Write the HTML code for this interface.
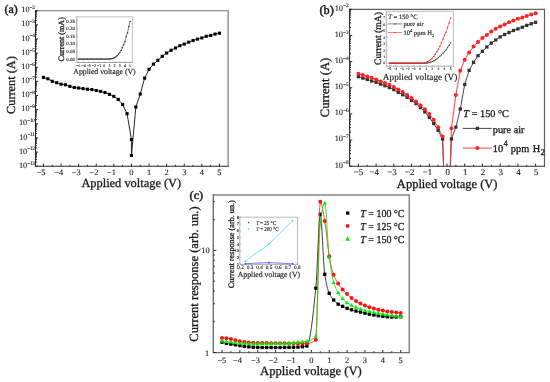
<!DOCTYPE html>
<html><head><meta charset="utf-8"><title>Figure</title>
<style>html,body{margin:0;padding:0;background:#fff;}svg{display:block;}
text{font-family:'Liberation Serif','Times New Roman',serif;text-rendering:geometricPrecision;stroke:#1a1a1a;stroke-width:0.3px;} .sm{stroke-width:0.14px;} .md{stroke-width:0.15px;} .tk{stroke-width:0.12px;} .pl{stroke-width:0.45px;}</style></head>
<body><svg width="550" height="382" viewBox="0 0 550 382">
<rect width="550" height="382" fill="#fff"/>
<path d="M35.50,10.70H228.10V166.20" fill="none" stroke="#707070" stroke-width="1.1"/>
<path d="M35.50,10.70V166.20H228.10" fill="none" stroke="#262626" stroke-width="1.1" stroke-linecap="square"/>
<line x1="43.45" y1="166.20" x2="43.45" y2="163.60" stroke="#2a2a2a" stroke-width="1" />
<text x="45.55" y="175.00" font-size="8.4" text-anchor="end" fill="#1a1a1a" class="tk" >−5</text>
<line x1="61.05" y1="166.20" x2="61.05" y2="163.60" stroke="#2a2a2a" stroke-width="1" />
<text x="63.15" y="175.00" font-size="8.4" text-anchor="end" fill="#1a1a1a" class="tk" >−4</text>
<line x1="78.65" y1="166.20" x2="78.65" y2="163.60" stroke="#2a2a2a" stroke-width="1" />
<text x="80.75" y="175.00" font-size="8.4" text-anchor="end" fill="#1a1a1a" class="tk" >−3</text>
<line x1="96.25" y1="166.20" x2="96.25" y2="163.60" stroke="#2a2a2a" stroke-width="1" />
<text x="98.35" y="175.00" font-size="8.4" text-anchor="end" fill="#1a1a1a" class="tk" >−2</text>
<line x1="113.85" y1="166.20" x2="113.85" y2="163.60" stroke="#2a2a2a" stroke-width="1" />
<text x="115.95" y="175.00" font-size="8.4" text-anchor="end" fill="#1a1a1a" class="tk" >−1</text>
<line x1="131.45" y1="166.20" x2="131.45" y2="163.60" stroke="#2a2a2a" stroke-width="1" />
<text x="131.45" y="175.00" font-size="8.4" text-anchor="middle" fill="#1a1a1a" class="tk" >0</text>
<line x1="149.05" y1="166.20" x2="149.05" y2="163.60" stroke="#2a2a2a" stroke-width="1" />
<text x="149.05" y="175.00" font-size="8.4" text-anchor="middle" fill="#1a1a1a" class="tk" >1</text>
<line x1="166.65" y1="166.20" x2="166.65" y2="163.60" stroke="#2a2a2a" stroke-width="1" />
<text x="166.65" y="175.00" font-size="8.4" text-anchor="middle" fill="#1a1a1a" class="tk" >2</text>
<line x1="184.25" y1="166.20" x2="184.25" y2="163.60" stroke="#2a2a2a" stroke-width="1" />
<text x="184.25" y="175.00" font-size="8.4" text-anchor="middle" fill="#1a1a1a" class="tk" >3</text>
<line x1="201.85" y1="166.20" x2="201.85" y2="163.60" stroke="#2a2a2a" stroke-width="1" />
<text x="201.85" y="175.00" font-size="8.4" text-anchor="middle" fill="#1a1a1a" class="tk" >4</text>
<line x1="219.45" y1="166.20" x2="219.45" y2="163.60" stroke="#2a2a2a" stroke-width="1" />
<text x="219.45" y="175.00" font-size="8.4" text-anchor="middle" fill="#1a1a1a" class="tk" >5</text>
<line x1="52.25" y1="166.20" x2="52.25" y2="164.80" stroke="#2a2a2a" stroke-width="1" />
<line x1="69.85" y1="166.20" x2="69.85" y2="164.80" stroke="#2a2a2a" stroke-width="1" />
<line x1="87.45" y1="166.20" x2="87.45" y2="164.80" stroke="#2a2a2a" stroke-width="1" />
<line x1="105.05" y1="166.20" x2="105.05" y2="164.80" stroke="#2a2a2a" stroke-width="1" />
<line x1="122.65" y1="166.20" x2="122.65" y2="164.80" stroke="#2a2a2a" stroke-width="1" />
<line x1="140.25" y1="166.20" x2="140.25" y2="164.80" stroke="#2a2a2a" stroke-width="1" />
<line x1="157.85" y1="166.20" x2="157.85" y2="164.80" stroke="#2a2a2a" stroke-width="1" />
<line x1="175.45" y1="166.20" x2="175.45" y2="164.80" stroke="#2a2a2a" stroke-width="1" />
<line x1="193.05" y1="166.20" x2="193.05" y2="164.80" stroke="#2a2a2a" stroke-width="1" />
<line x1="210.65" y1="166.20" x2="210.65" y2="164.80" stroke="#2a2a2a" stroke-width="1" />
<line x1="35.50" y1="166.20" x2="38.10" y2="166.20" stroke="#2a2a2a" stroke-width="1" />
<text x="34.60" y="167.80" font-size="8.3" text-anchor="end" fill="#1a1a1a" class="tk">10<tspan font-size="5.2" dy="-3.2" letter-spacing="-0.25">−13</tspan></text>
<line x1="35.50" y1="161.94" x2="36.90" y2="161.94" stroke="#2a2a2a" stroke-width="1" />
<line x1="35.50" y1="159.46" x2="36.90" y2="159.46" stroke="#2a2a2a" stroke-width="1" />
<line x1="35.50" y1="157.69" x2="36.90" y2="157.69" stroke="#2a2a2a" stroke-width="1" />
<line x1="35.50" y1="156.32" x2="36.90" y2="156.32" stroke="#2a2a2a" stroke-width="1" />
<line x1="35.50" y1="155.20" x2="36.90" y2="155.20" stroke="#2a2a2a" stroke-width="1" />
<line x1="35.50" y1="154.25" x2="36.90" y2="154.25" stroke="#2a2a2a" stroke-width="1" />
<line x1="35.50" y1="153.43" x2="36.90" y2="153.43" stroke="#2a2a2a" stroke-width="1" />
<line x1="35.50" y1="152.71" x2="36.90" y2="152.71" stroke="#2a2a2a" stroke-width="1" />
<line x1="35.50" y1="152.06" x2="38.10" y2="152.06" stroke="#2a2a2a" stroke-width="1" />
<text x="34.60" y="153.66" font-size="8.3" text-anchor="end" fill="#1a1a1a" class="tk">10<tspan font-size="5.2" dy="-3.2" letter-spacing="-0.25">−12</tspan></text>
<line x1="35.50" y1="147.81" x2="36.90" y2="147.81" stroke="#2a2a2a" stroke-width="1" />
<line x1="35.50" y1="145.32" x2="36.90" y2="145.32" stroke="#2a2a2a" stroke-width="1" />
<line x1="35.50" y1="143.55" x2="36.90" y2="143.55" stroke="#2a2a2a" stroke-width="1" />
<line x1="35.50" y1="142.18" x2="36.90" y2="142.18" stroke="#2a2a2a" stroke-width="1" />
<line x1="35.50" y1="141.06" x2="36.90" y2="141.06" stroke="#2a2a2a" stroke-width="1" />
<line x1="35.50" y1="140.12" x2="36.90" y2="140.12" stroke="#2a2a2a" stroke-width="1" />
<line x1="35.50" y1="139.30" x2="36.90" y2="139.30" stroke="#2a2a2a" stroke-width="1" />
<line x1="35.50" y1="138.57" x2="36.90" y2="138.57" stroke="#2a2a2a" stroke-width="1" />
<line x1="35.50" y1="137.93" x2="38.10" y2="137.93" stroke="#2a2a2a" stroke-width="1" />
<text x="34.60" y="139.53" font-size="8.3" text-anchor="end" fill="#1a1a1a" class="tk">10<tspan font-size="5.2" dy="-3.2" letter-spacing="-0.25">−11</tspan></text>
<line x1="35.50" y1="133.67" x2="36.90" y2="133.67" stroke="#2a2a2a" stroke-width="1" />
<line x1="35.50" y1="131.18" x2="36.90" y2="131.18" stroke="#2a2a2a" stroke-width="1" />
<line x1="35.50" y1="129.42" x2="36.90" y2="129.42" stroke="#2a2a2a" stroke-width="1" />
<line x1="35.50" y1="128.05" x2="36.90" y2="128.05" stroke="#2a2a2a" stroke-width="1" />
<line x1="35.50" y1="126.93" x2="36.90" y2="126.93" stroke="#2a2a2a" stroke-width="1" />
<line x1="35.50" y1="125.98" x2="36.90" y2="125.98" stroke="#2a2a2a" stroke-width="1" />
<line x1="35.50" y1="125.16" x2="36.90" y2="125.16" stroke="#2a2a2a" stroke-width="1" />
<line x1="35.50" y1="124.44" x2="36.90" y2="124.44" stroke="#2a2a2a" stroke-width="1" />
<line x1="35.50" y1="123.79" x2="38.10" y2="123.79" stroke="#2a2a2a" stroke-width="1" />
<text x="34.60" y="125.39" font-size="8.3" text-anchor="end" fill="#1a1a1a" class="tk">10<tspan font-size="5.2" dy="-3.2" letter-spacing="-0.25">−10</tspan></text>
<line x1="35.50" y1="119.54" x2="36.90" y2="119.54" stroke="#2a2a2a" stroke-width="1" />
<line x1="35.50" y1="117.05" x2="36.90" y2="117.05" stroke="#2a2a2a" stroke-width="1" />
<line x1="35.50" y1="115.28" x2="36.90" y2="115.28" stroke="#2a2a2a" stroke-width="1" />
<line x1="35.50" y1="113.91" x2="36.90" y2="113.91" stroke="#2a2a2a" stroke-width="1" />
<line x1="35.50" y1="112.79" x2="36.90" y2="112.79" stroke="#2a2a2a" stroke-width="1" />
<line x1="35.50" y1="111.84" x2="36.90" y2="111.84" stroke="#2a2a2a" stroke-width="1" />
<line x1="35.50" y1="111.02" x2="36.90" y2="111.02" stroke="#2a2a2a" stroke-width="1" />
<line x1="35.50" y1="110.30" x2="36.90" y2="110.30" stroke="#2a2a2a" stroke-width="1" />
<line x1="35.50" y1="109.65" x2="38.10" y2="109.65" stroke="#2a2a2a" stroke-width="1" />
<text x="34.60" y="111.25" font-size="8.3" text-anchor="end" fill="#1a1a1a" class="tk">10<tspan font-size="5.2" dy="-3.2" letter-spacing="-0.25">−9</tspan></text>
<line x1="35.50" y1="105.40" x2="36.90" y2="105.40" stroke="#2a2a2a" stroke-width="1" />
<line x1="35.50" y1="102.91" x2="36.90" y2="102.91" stroke="#2a2a2a" stroke-width="1" />
<line x1="35.50" y1="101.14" x2="36.90" y2="101.14" stroke="#2a2a2a" stroke-width="1" />
<line x1="35.50" y1="99.77" x2="36.90" y2="99.77" stroke="#2a2a2a" stroke-width="1" />
<line x1="35.50" y1="98.65" x2="36.90" y2="98.65" stroke="#2a2a2a" stroke-width="1" />
<line x1="35.50" y1="97.71" x2="36.90" y2="97.71" stroke="#2a2a2a" stroke-width="1" />
<line x1="35.50" y1="96.89" x2="36.90" y2="96.89" stroke="#2a2a2a" stroke-width="1" />
<line x1="35.50" y1="96.17" x2="36.90" y2="96.17" stroke="#2a2a2a" stroke-width="1" />
<line x1="35.50" y1="95.52" x2="38.10" y2="95.52" stroke="#2a2a2a" stroke-width="1" />
<text x="34.60" y="97.12" font-size="8.3" text-anchor="end" fill="#1a1a1a" class="tk">10<tspan font-size="5.2" dy="-3.2" letter-spacing="-0.25">−8</tspan></text>
<line x1="35.50" y1="91.26" x2="36.90" y2="91.26" stroke="#2a2a2a" stroke-width="1" />
<line x1="35.50" y1="88.77" x2="36.90" y2="88.77" stroke="#2a2a2a" stroke-width="1" />
<line x1="35.50" y1="87.01" x2="36.90" y2="87.01" stroke="#2a2a2a" stroke-width="1" />
<line x1="35.50" y1="85.64" x2="36.90" y2="85.64" stroke="#2a2a2a" stroke-width="1" />
<line x1="35.50" y1="84.52" x2="36.90" y2="84.52" stroke="#2a2a2a" stroke-width="1" />
<line x1="35.50" y1="83.57" x2="36.90" y2="83.57" stroke="#2a2a2a" stroke-width="1" />
<line x1="35.50" y1="82.75" x2="36.90" y2="82.75" stroke="#2a2a2a" stroke-width="1" />
<line x1="35.50" y1="82.03" x2="36.90" y2="82.03" stroke="#2a2a2a" stroke-width="1" />
<line x1="35.50" y1="81.38" x2="38.10" y2="81.38" stroke="#2a2a2a" stroke-width="1" />
<text x="34.60" y="82.98" font-size="8.3" text-anchor="end" fill="#1a1a1a" class="tk">10<tspan font-size="5.2" dy="-3.2" letter-spacing="-0.25">−7</tspan></text>
<line x1="35.50" y1="77.13" x2="36.90" y2="77.13" stroke="#2a2a2a" stroke-width="1" />
<line x1="35.50" y1="74.64" x2="36.90" y2="74.64" stroke="#2a2a2a" stroke-width="1" />
<line x1="35.50" y1="72.87" x2="36.90" y2="72.87" stroke="#2a2a2a" stroke-width="1" />
<line x1="35.50" y1="71.50" x2="36.90" y2="71.50" stroke="#2a2a2a" stroke-width="1" />
<line x1="35.50" y1="70.38" x2="36.90" y2="70.38" stroke="#2a2a2a" stroke-width="1" />
<line x1="35.50" y1="69.44" x2="36.90" y2="69.44" stroke="#2a2a2a" stroke-width="1" />
<line x1="35.50" y1="68.62" x2="36.90" y2="68.62" stroke="#2a2a2a" stroke-width="1" />
<line x1="35.50" y1="67.89" x2="36.90" y2="67.89" stroke="#2a2a2a" stroke-width="1" />
<line x1="35.50" y1="67.25" x2="38.10" y2="67.25" stroke="#2a2a2a" stroke-width="1" />
<text x="34.60" y="68.85" font-size="8.3" text-anchor="end" fill="#1a1a1a" class="tk">10<tspan font-size="5.2" dy="-3.2" letter-spacing="-0.25">−6</tspan></text>
<line x1="35.50" y1="62.99" x2="36.90" y2="62.99" stroke="#2a2a2a" stroke-width="1" />
<line x1="35.50" y1="60.50" x2="36.90" y2="60.50" stroke="#2a2a2a" stroke-width="1" />
<line x1="35.50" y1="58.73" x2="36.90" y2="58.73" stroke="#2a2a2a" stroke-width="1" />
<line x1="35.50" y1="57.36" x2="36.90" y2="57.36" stroke="#2a2a2a" stroke-width="1" />
<line x1="35.50" y1="56.25" x2="36.90" y2="56.25" stroke="#2a2a2a" stroke-width="1" />
<line x1="35.50" y1="55.30" x2="36.90" y2="55.30" stroke="#2a2a2a" stroke-width="1" />
<line x1="35.50" y1="54.48" x2="36.90" y2="54.48" stroke="#2a2a2a" stroke-width="1" />
<line x1="35.50" y1="53.76" x2="36.90" y2="53.76" stroke="#2a2a2a" stroke-width="1" />
<line x1="35.50" y1="53.11" x2="38.10" y2="53.11" stroke="#2a2a2a" stroke-width="1" />
<text x="34.60" y="54.71" font-size="8.3" text-anchor="end" fill="#1a1a1a" class="tk">10<tspan font-size="5.2" dy="-3.2" letter-spacing="-0.25">−5</tspan></text>
<line x1="35.50" y1="48.85" x2="36.90" y2="48.85" stroke="#2a2a2a" stroke-width="1" />
<line x1="35.50" y1="46.36" x2="36.90" y2="46.36" stroke="#2a2a2a" stroke-width="1" />
<line x1="35.50" y1="44.60" x2="36.90" y2="44.60" stroke="#2a2a2a" stroke-width="1" />
<line x1="35.50" y1="43.23" x2="36.90" y2="43.23" stroke="#2a2a2a" stroke-width="1" />
<line x1="35.50" y1="42.11" x2="36.90" y2="42.11" stroke="#2a2a2a" stroke-width="1" />
<line x1="35.50" y1="41.16" x2="36.90" y2="41.16" stroke="#2a2a2a" stroke-width="1" />
<line x1="35.50" y1="40.34" x2="36.90" y2="40.34" stroke="#2a2a2a" stroke-width="1" />
<line x1="35.50" y1="39.62" x2="36.90" y2="39.62" stroke="#2a2a2a" stroke-width="1" />
<line x1="35.50" y1="38.97" x2="38.10" y2="38.97" stroke="#2a2a2a" stroke-width="1" />
<text x="34.60" y="40.57" font-size="8.3" text-anchor="end" fill="#1a1a1a" class="tk">10<tspan font-size="5.2" dy="-3.2" letter-spacing="-0.25">−4</tspan></text>
<line x1="35.50" y1="34.72" x2="36.90" y2="34.72" stroke="#2a2a2a" stroke-width="1" />
<line x1="35.50" y1="32.23" x2="36.90" y2="32.23" stroke="#2a2a2a" stroke-width="1" />
<line x1="35.50" y1="30.46" x2="36.90" y2="30.46" stroke="#2a2a2a" stroke-width="1" />
<line x1="35.50" y1="29.09" x2="36.90" y2="29.09" stroke="#2a2a2a" stroke-width="1" />
<line x1="35.50" y1="27.97" x2="36.90" y2="27.97" stroke="#2a2a2a" stroke-width="1" />
<line x1="35.50" y1="27.03" x2="36.90" y2="27.03" stroke="#2a2a2a" stroke-width="1" />
<line x1="35.50" y1="26.21" x2="36.90" y2="26.21" stroke="#2a2a2a" stroke-width="1" />
<line x1="35.50" y1="25.48" x2="36.90" y2="25.48" stroke="#2a2a2a" stroke-width="1" />
<line x1="35.50" y1="24.84" x2="38.10" y2="24.84" stroke="#2a2a2a" stroke-width="1" />
<text x="34.60" y="26.44" font-size="8.3" text-anchor="end" fill="#1a1a1a" class="tk">10<tspan font-size="5.2" dy="-3.2" letter-spacing="-0.25">−3</tspan></text>
<line x1="35.50" y1="20.58" x2="36.90" y2="20.58" stroke="#2a2a2a" stroke-width="1" />
<line x1="35.50" y1="18.09" x2="36.90" y2="18.09" stroke="#2a2a2a" stroke-width="1" />
<line x1="35.50" y1="16.33" x2="36.90" y2="16.33" stroke="#2a2a2a" stroke-width="1" />
<line x1="35.50" y1="14.96" x2="36.90" y2="14.96" stroke="#2a2a2a" stroke-width="1" />
<line x1="35.50" y1="13.84" x2="36.90" y2="13.84" stroke="#2a2a2a" stroke-width="1" />
<line x1="35.50" y1="12.89" x2="36.90" y2="12.89" stroke="#2a2a2a" stroke-width="1" />
<line x1="35.50" y1="12.07" x2="36.90" y2="12.07" stroke="#2a2a2a" stroke-width="1" />
<line x1="35.50" y1="11.35" x2="36.90" y2="11.35" stroke="#2a2a2a" stroke-width="1" />
<line x1="35.50" y1="10.70" x2="38.10" y2="10.70" stroke="#2a2a2a" stroke-width="1" />
<text x="34.60" y="12.30" font-size="8.3" text-anchor="end" fill="#1a1a1a" class="tk">10<tspan font-size="5.2" dy="-3.2" letter-spacing="-0.25">−2</tspan></text>
<text x="131.30" y="187.00" font-size="12.4" text-anchor="middle" fill="#1a1a1a" >Applied voltage (V)</text>
<text transform="translate(14.5,85.1) rotate(-90)" font-size="12.3" text-anchor="middle" fill="#1a1a1a">Current (A)</text>
<text x="4.6" y="12.9" font-size="11.8" fill="#1a1a1a" class="pl" textLength="13.2" lengthAdjust="spacingAndGlyphs">(a)</text>
<polyline points="43.45,77.40 47.85,78.80 52.25,81.30 56.65,82.70 61.05,84.20 65.45,84.80 69.85,86.40 74.25,87.50 78.65,88.00 83.05,88.60 87.45,89.20 91.85,89.60 96.25,90.50 100.65,91.40 105.05,92.50 109.45,94.30 113.85,96.40 118.25,99.40 122.65,104.50 127.05,113.70 131.45,139.60 131.45,155.50 135.85,107.00 140.25,94.00 144.65,78.10 149.05,69.30 153.45,64.10 157.85,60.30 162.25,56.40 166.65,53.00 171.05,50.30 175.45,48.00 179.85,45.70 184.25,44.10 188.65,42.20 193.05,40.50 197.45,39.10 201.85,37.90 206.25,36.30 210.65,35.40 215.05,34.10 219.45,33.20" fill="none" stroke="#111" stroke-width="0.9" stroke-linejoin="round"/>
<rect x="41.90" y="75.85" width="3.1" height="3.1" fill="#000"/>
<rect x="46.30" y="77.25" width="3.1" height="3.1" fill="#000"/>
<rect x="50.70" y="79.75" width="3.1" height="3.1" fill="#000"/>
<rect x="55.10" y="81.15" width="3.1" height="3.1" fill="#000"/>
<rect x="59.50" y="82.65" width="3.1" height="3.1" fill="#000"/>
<rect x="63.90" y="83.25" width="3.1" height="3.1" fill="#000"/>
<rect x="68.30" y="84.85" width="3.1" height="3.1" fill="#000"/>
<rect x="72.70" y="85.95" width="3.1" height="3.1" fill="#000"/>
<rect x="77.10" y="86.45" width="3.1" height="3.1" fill="#000"/>
<rect x="81.50" y="87.05" width="3.1" height="3.1" fill="#000"/>
<rect x="85.90" y="87.65" width="3.1" height="3.1" fill="#000"/>
<rect x="90.30" y="88.05" width="3.1" height="3.1" fill="#000"/>
<rect x="94.70" y="88.95" width="3.1" height="3.1" fill="#000"/>
<rect x="99.10" y="89.85" width="3.1" height="3.1" fill="#000"/>
<rect x="103.50" y="90.95" width="3.1" height="3.1" fill="#000"/>
<rect x="107.90" y="92.75" width="3.1" height="3.1" fill="#000"/>
<rect x="112.30" y="94.85" width="3.1" height="3.1" fill="#000"/>
<rect x="116.70" y="97.85" width="3.1" height="3.1" fill="#000"/>
<rect x="121.10" y="102.95" width="3.1" height="3.1" fill="#000"/>
<rect x="125.50" y="112.15" width="3.1" height="3.1" fill="#000"/>
<rect x="129.90" y="138.05" width="3.1" height="3.1" fill="#000"/>
<rect x="129.90" y="153.95" width="3.1" height="3.1" fill="#000"/>
<rect x="134.30" y="105.45" width="3.1" height="3.1" fill="#000"/>
<rect x="138.70" y="92.45" width="3.1" height="3.1" fill="#000"/>
<rect x="143.10" y="76.55" width="3.1" height="3.1" fill="#000"/>
<rect x="147.50" y="67.75" width="3.1" height="3.1" fill="#000"/>
<rect x="151.90" y="62.55" width="3.1" height="3.1" fill="#000"/>
<rect x="156.30" y="58.75" width="3.1" height="3.1" fill="#000"/>
<rect x="160.70" y="54.85" width="3.1" height="3.1" fill="#000"/>
<rect x="165.10" y="51.45" width="3.1" height="3.1" fill="#000"/>
<rect x="169.50" y="48.75" width="3.1" height="3.1" fill="#000"/>
<rect x="173.90" y="46.45" width="3.1" height="3.1" fill="#000"/>
<rect x="178.30" y="44.15" width="3.1" height="3.1" fill="#000"/>
<rect x="182.70" y="42.55" width="3.1" height="3.1" fill="#000"/>
<rect x="187.10" y="40.65" width="3.1" height="3.1" fill="#000"/>
<rect x="191.50" y="38.95" width="3.1" height="3.1" fill="#000"/>
<rect x="195.90" y="37.55" width="3.1" height="3.1" fill="#000"/>
<rect x="200.30" y="36.35" width="3.1" height="3.1" fill="#000"/>
<rect x="204.70" y="34.75" width="3.1" height="3.1" fill="#000"/>
<rect x="209.10" y="33.85" width="3.1" height="3.1" fill="#000"/>
<rect x="213.50" y="32.55" width="3.1" height="3.1" fill="#000"/>
<rect x="217.90" y="31.65" width="3.1" height="3.1" fill="#000"/>
<path d="M76.80,16.80H132.40V62.50" fill="none" stroke="#c4c4c4" stroke-width="1.0"/>
<path d="M76.80,16.80V62.50H132.40" fill="none" stroke="#8a8a8a" stroke-width="0.8" stroke-linecap="square"/>
<polyline points="78.40,59.10 79.69,59.10 80.98,59.10 82.28,59.10 83.57,59.10 84.86,59.10 86.16,59.10 87.45,59.10 88.74,59.10 90.03,59.10 91.33,59.10 92.62,59.10 93.91,59.10 95.20,59.10 96.50,59.10 97.79,59.10 99.08,59.10 100.37,59.10 101.67,59.10 102.96,59.10 104.25,59.10 105.54,59.10 106.83,59.10 108.13,59.07 109.42,58.99 110.71,58.85 112.00,58.64 113.30,58.24 114.59,57.60 115.88,56.77 117.17,55.72 118.47,54.18 119.76,52.71 121.05,50.40 122.34,47.62 123.64,44.68 124.93,41.57 126.22,36.35 127.52,32.76 128.81,26.54 130.10,21.40" fill="none" stroke="#333" stroke-width="0.6" stroke-linejoin="round"/>
<rect x="77.80" y="58.50" width="1.2" height="1.2" fill="#222"/>
<rect x="79.09" y="58.50" width="1.2" height="1.2" fill="#222"/>
<rect x="80.39" y="58.50" width="1.2" height="1.2" fill="#222"/>
<rect x="81.68" y="58.50" width="1.2" height="1.2" fill="#222"/>
<rect x="82.97" y="58.50" width="1.2" height="1.2" fill="#222"/>
<rect x="84.26" y="58.50" width="1.2" height="1.2" fill="#222"/>
<rect x="85.56" y="58.50" width="1.2" height="1.2" fill="#222"/>
<rect x="86.85" y="58.50" width="1.2" height="1.2" fill="#222"/>
<rect x="88.14" y="58.50" width="1.2" height="1.2" fill="#222"/>
<rect x="89.43" y="58.50" width="1.2" height="1.2" fill="#222"/>
<rect x="90.73" y="58.50" width="1.2" height="1.2" fill="#222"/>
<rect x="92.02" y="58.50" width="1.2" height="1.2" fill="#222"/>
<rect x="93.31" y="58.50" width="1.2" height="1.2" fill="#222"/>
<rect x="94.60" y="58.50" width="1.2" height="1.2" fill="#222"/>
<rect x="95.90" y="58.50" width="1.2" height="1.2" fill="#222"/>
<rect x="97.19" y="58.50" width="1.2" height="1.2" fill="#222"/>
<rect x="98.48" y="58.50" width="1.2" height="1.2" fill="#222"/>
<rect x="99.77" y="58.50" width="1.2" height="1.2" fill="#222"/>
<rect x="101.07" y="58.50" width="1.2" height="1.2" fill="#222"/>
<rect x="102.36" y="58.50" width="1.2" height="1.2" fill="#222"/>
<rect x="103.65" y="58.50" width="1.2" height="1.2" fill="#222"/>
<rect x="104.94" y="58.50" width="1.2" height="1.2" fill="#222"/>
<rect x="106.23" y="58.50" width="1.2" height="1.2" fill="#222"/>
<rect x="107.53" y="58.47" width="1.2" height="1.2" fill="#222"/>
<rect x="108.82" y="58.39" width="1.2" height="1.2" fill="#222"/>
<rect x="110.11" y="58.25" width="1.2" height="1.2" fill="#222"/>
<rect x="111.41" y="58.04" width="1.2" height="1.2" fill="#222"/>
<rect x="112.70" y="57.64" width="1.2" height="1.2" fill="#222"/>
<rect x="113.99" y="57.00" width="1.2" height="1.2" fill="#222"/>
<rect x="115.28" y="56.17" width="1.2" height="1.2" fill="#222"/>
<rect x="116.58" y="55.12" width="1.2" height="1.2" fill="#222"/>
<rect x="117.87" y="53.58" width="1.2" height="1.2" fill="#222"/>
<rect x="119.16" y="52.11" width="1.2" height="1.2" fill="#222"/>
<rect x="120.45" y="49.80" width="1.2" height="1.2" fill="#222"/>
<rect x="121.75" y="47.02" width="1.2" height="1.2" fill="#222"/>
<rect x="123.04" y="44.08" width="1.2" height="1.2" fill="#222"/>
<rect x="124.33" y="40.97" width="1.2" height="1.2" fill="#222"/>
<rect x="125.62" y="35.75" width="1.2" height="1.2" fill="#222"/>
<rect x="126.92" y="32.16" width="1.2" height="1.2" fill="#222"/>
<rect x="128.21" y="25.94" width="1.2" height="1.2" fill="#222"/>
<rect x="129.50" y="20.80" width="1.2" height="1.2" fill="#222"/>
<text x="74.90" y="60.70" font-size="4.9" text-anchor="end" fill="#333" class="sm" >0.00</text>
<line x1="76.80" y1="59.10" x2="78.00" y2="59.10" stroke="#888" stroke-width="0.5" />
<text x="74.90" y="53.08" font-size="4.9" text-anchor="end" fill="#333" class="sm" >0.05</text>
<line x1="76.80" y1="51.48" x2="78.00" y2="51.48" stroke="#888" stroke-width="0.5" />
<text x="74.90" y="45.46" font-size="4.9" text-anchor="end" fill="#333" class="sm" >0.10</text>
<line x1="76.80" y1="43.86" x2="78.00" y2="43.86" stroke="#888" stroke-width="0.5" />
<text x="74.90" y="37.84" font-size="4.9" text-anchor="end" fill="#333" class="sm" >0.15</text>
<line x1="76.80" y1="36.24" x2="78.00" y2="36.24" stroke="#888" stroke-width="0.5" />
<text x="74.90" y="30.22" font-size="4.9" text-anchor="end" fill="#333" class="sm" >0.20</text>
<line x1="76.80" y1="28.62" x2="78.00" y2="28.62" stroke="#888" stroke-width="0.5" />
<text x="74.90" y="22.60" font-size="4.9" text-anchor="end" fill="#333" class="sm" >0.25</text>
<line x1="76.80" y1="21.00" x2="78.00" y2="21.00" stroke="#888" stroke-width="0.5" />
<text x="78.40" y="67.00" font-size="3.9" text-anchor="middle" fill="#444" class="sm" >−5</text>
<line x1="78.40" y1="62.50" x2="78.40" y2="61.30" stroke="#888" stroke-width="0.5" />
<text x="83.57" y="67.00" font-size="3.9" text-anchor="middle" fill="#444" class="sm" >−4</text>
<line x1="83.57" y1="62.50" x2="83.57" y2="61.30" stroke="#888" stroke-width="0.5" />
<text x="88.74" y="67.00" font-size="3.9" text-anchor="middle" fill="#444" class="sm" >−3</text>
<line x1="88.74" y1="62.50" x2="88.74" y2="61.30" stroke="#888" stroke-width="0.5" />
<text x="93.91" y="67.00" font-size="3.9" text-anchor="middle" fill="#444" class="sm" >−2</text>
<line x1="93.91" y1="62.50" x2="93.91" y2="61.30" stroke="#888" stroke-width="0.5" />
<text x="99.08" y="67.00" font-size="3.9" text-anchor="middle" fill="#444" class="sm" >−1</text>
<line x1="99.08" y1="62.50" x2="99.08" y2="61.30" stroke="#888" stroke-width="0.5" />
<text x="104.25" y="67.00" font-size="3.9" text-anchor="middle" fill="#444" class="sm" >0</text>
<line x1="104.25" y1="62.50" x2="104.25" y2="61.30" stroke="#888" stroke-width="0.5" />
<text x="109.42" y="67.00" font-size="3.9" text-anchor="middle" fill="#444" class="sm" >1</text>
<line x1="109.42" y1="62.50" x2="109.42" y2="61.30" stroke="#888" stroke-width="0.5" />
<text x="114.59" y="67.00" font-size="3.9" text-anchor="middle" fill="#444" class="sm" >2</text>
<line x1="114.59" y1="62.50" x2="114.59" y2="61.30" stroke="#888" stroke-width="0.5" />
<text x="119.76" y="67.00" font-size="3.9" text-anchor="middle" fill="#444" class="sm" >3</text>
<line x1="119.76" y1="62.50" x2="119.76" y2="61.30" stroke="#888" stroke-width="0.5" />
<text x="124.93" y="67.00" font-size="3.9" text-anchor="middle" fill="#444" class="sm" >4</text>
<line x1="124.93" y1="62.50" x2="124.93" y2="61.30" stroke="#888" stroke-width="0.5" />
<text x="130.10" y="67.00" font-size="3.9" text-anchor="middle" fill="#444" class="sm" >5</text>
<line x1="130.10" y1="62.50" x2="130.10" y2="61.30" stroke="#888" stroke-width="0.5" />
<text x="104.50" y="74.40" font-size="7.75" text-anchor="middle" fill="#1a1a1a" class="md" >Applied voltage (V)</text>
<text transform="translate(63.6,39.3) rotate(-90)" font-size="8.1" text-anchor="middle" fill="#1a1a1a">Current (mA)</text>
<clipPath id="cb"><rect x="349.6" y="9.3" width="194.89999999999998" height="156.89999999999998"/></clipPath>
<g clip-path="url(#cb)">
<polyline points="358.40,76.60 362.83,78.10 367.26,79.40 371.69,81.00 376.12,82.30 380.55,84.10 384.98,85.70 389.41,87.60 393.84,89.60 398.27,92.40 402.70,94.70 407.13,97.30 411.56,100.40 415.99,103.60 420.42,107.60 424.85,111.90 429.28,117.40 433.71,123.50 438.14,130.30 442.57,139.00 447.00,260.00 451.43,139.00 455.86,127.10 460.29,109.00 464.72,84.50 469.15,70.40 473.58,62.30 478.01,55.70 482.44,51.30 486.87,47.00 491.30,43.10 495.73,40.00 500.16,36.90 504.59,34.50 509.02,32.50 513.45,30.50 517.88,28.90 522.31,27.20 526.74,25.40 531.17,23.80 535.60,22.30" fill="none" stroke="#333" stroke-width="0.9" stroke-linejoin="round"/>
<polyline points="358.40,73.70 362.83,75.10 367.26,76.50 371.69,77.80 376.12,79.60 380.55,81.40 384.98,82.90 389.41,84.70 393.84,87.00 398.27,89.60 402.70,92.00 407.13,95.00 411.56,98.00 415.99,101.50 420.42,105.20 424.85,109.30 429.28,114.10 433.71,119.80 438.14,127.20 442.57,136.50 447.00,260.00 451.43,128.30 455.86,94.90 460.29,70.80 464.72,59.70 469.15,52.50 473.58,46.60 478.01,42.10 482.44,38.10 486.87,34.90 491.30,31.60 495.73,28.70 500.16,26.60 504.59,24.40 509.02,22.30 513.45,20.50 517.88,18.80 522.31,17.60 526.74,16.00 531.17,14.60 535.60,13.30" fill="none" stroke="#ff2a2a" stroke-width="0.9" stroke-linejoin="round"/>
<rect x="356.75" y="74.95" width="3.3" height="3.3" fill="#333"/>
<rect x="361.18" y="76.45" width="3.3" height="3.3" fill="#333"/>
<rect x="365.61" y="77.75" width="3.3" height="3.3" fill="#333"/>
<rect x="370.04" y="79.35" width="3.3" height="3.3" fill="#333"/>
<rect x="374.47" y="80.65" width="3.3" height="3.3" fill="#333"/>
<rect x="378.90" y="82.45" width="3.3" height="3.3" fill="#333"/>
<rect x="383.33" y="84.05" width="3.3" height="3.3" fill="#333"/>
<rect x="387.76" y="85.95" width="3.3" height="3.3" fill="#333"/>
<rect x="392.19" y="87.95" width="3.3" height="3.3" fill="#333"/>
<rect x="396.62" y="90.75" width="3.3" height="3.3" fill="#333"/>
<rect x="401.05" y="93.05" width="3.3" height="3.3" fill="#333"/>
<rect x="405.48" y="95.65" width="3.3" height="3.3" fill="#333"/>
<rect x="409.91" y="98.75" width="3.3" height="3.3" fill="#333"/>
<rect x="414.34" y="101.95" width="3.3" height="3.3" fill="#333"/>
<rect x="418.77" y="105.95" width="3.3" height="3.3" fill="#333"/>
<rect x="423.20" y="110.25" width="3.3" height="3.3" fill="#333"/>
<rect x="427.63" y="115.75" width="3.3" height="3.3" fill="#333"/>
<rect x="432.06" y="121.85" width="3.3" height="3.3" fill="#333"/>
<rect x="436.49" y="128.65" width="3.3" height="3.3" fill="#333"/>
<rect x="440.92" y="137.35" width="3.3" height="3.3" fill="#333"/>
<rect x="449.78" y="137.35" width="3.3" height="3.3" fill="#333"/>
<rect x="454.21" y="125.45" width="3.3" height="3.3" fill="#333"/>
<rect x="458.64" y="107.35" width="3.3" height="3.3" fill="#333"/>
<rect x="463.07" y="82.85" width="3.3" height="3.3" fill="#333"/>
<rect x="467.50" y="68.75" width="3.3" height="3.3" fill="#333"/>
<rect x="471.93" y="60.65" width="3.3" height="3.3" fill="#333"/>
<rect x="476.36" y="54.05" width="3.3" height="3.3" fill="#333"/>
<rect x="480.79" y="49.65" width="3.3" height="3.3" fill="#333"/>
<rect x="485.22" y="45.35" width="3.3" height="3.3" fill="#333"/>
<rect x="489.65" y="41.45" width="3.3" height="3.3" fill="#333"/>
<rect x="494.08" y="38.35" width="3.3" height="3.3" fill="#333"/>
<rect x="498.51" y="35.25" width="3.3" height="3.3" fill="#333"/>
<rect x="502.94" y="32.85" width="3.3" height="3.3" fill="#333"/>
<rect x="507.37" y="30.85" width="3.3" height="3.3" fill="#333"/>
<rect x="511.80" y="28.85" width="3.3" height="3.3" fill="#333"/>
<rect x="516.23" y="27.25" width="3.3" height="3.3" fill="#333"/>
<rect x="520.66" y="25.55" width="3.3" height="3.3" fill="#333"/>
<rect x="525.09" y="23.75" width="3.3" height="3.3" fill="#333"/>
<rect x="529.52" y="22.15" width="3.3" height="3.3" fill="#333"/>
<rect x="533.95" y="20.65" width="3.3" height="3.3" fill="#333"/>
<circle cx="358.40" cy="73.70" r="2.0" fill="#ff2020"/>
<circle cx="362.83" cy="75.10" r="2.0" fill="#ff2020"/>
<circle cx="367.26" cy="76.50" r="2.0" fill="#ff2020"/>
<circle cx="371.69" cy="77.80" r="2.0" fill="#ff2020"/>
<circle cx="376.12" cy="79.60" r="2.0" fill="#ff2020"/>
<circle cx="380.55" cy="81.40" r="2.0" fill="#ff2020"/>
<circle cx="384.98" cy="82.90" r="2.0" fill="#ff2020"/>
<circle cx="389.41" cy="84.70" r="2.0" fill="#ff2020"/>
<circle cx="393.84" cy="87.00" r="2.0" fill="#ff2020"/>
<circle cx="398.27" cy="89.60" r="2.0" fill="#ff2020"/>
<circle cx="402.70" cy="92.00" r="2.0" fill="#ff2020"/>
<circle cx="407.13" cy="95.00" r="2.0" fill="#ff2020"/>
<circle cx="411.56" cy="98.00" r="2.0" fill="#ff2020"/>
<circle cx="415.99" cy="101.50" r="2.0" fill="#ff2020"/>
<circle cx="420.42" cy="105.20" r="2.0" fill="#ff2020"/>
<circle cx="424.85" cy="109.30" r="2.0" fill="#ff2020"/>
<circle cx="429.28" cy="114.10" r="2.0" fill="#ff2020"/>
<circle cx="433.71" cy="119.80" r="2.0" fill="#ff2020"/>
<circle cx="438.14" cy="127.20" r="2.0" fill="#ff2020"/>
<circle cx="442.57" cy="136.50" r="2.0" fill="#ff2020"/>
<circle cx="451.43" cy="128.30" r="2.0" fill="#ff2020"/>
<circle cx="455.86" cy="94.90" r="2.0" fill="#ff2020"/>
<circle cx="460.29" cy="70.80" r="2.0" fill="#ff2020"/>
<circle cx="464.72" cy="59.70" r="2.0" fill="#ff2020"/>
<circle cx="469.15" cy="52.50" r="2.0" fill="#ff2020"/>
<circle cx="473.58" cy="46.60" r="2.0" fill="#ff2020"/>
<circle cx="478.01" cy="42.10" r="2.0" fill="#ff2020"/>
<circle cx="482.44" cy="38.10" r="2.0" fill="#ff2020"/>
<circle cx="486.87" cy="34.90" r="2.0" fill="#ff2020"/>
<circle cx="491.30" cy="31.60" r="2.0" fill="#ff2020"/>
<circle cx="495.73" cy="28.70" r="2.0" fill="#ff2020"/>
<circle cx="500.16" cy="26.60" r="2.0" fill="#ff2020"/>
<circle cx="504.59" cy="24.40" r="2.0" fill="#ff2020"/>
<circle cx="509.02" cy="22.30" r="2.0" fill="#ff2020"/>
<circle cx="513.45" cy="20.50" r="2.0" fill="#ff2020"/>
<circle cx="517.88" cy="18.80" r="2.0" fill="#ff2020"/>
<circle cx="522.31" cy="17.60" r="2.0" fill="#ff2020"/>
<circle cx="526.74" cy="16.00" r="2.0" fill="#ff2020"/>
<circle cx="531.17" cy="14.60" r="2.0" fill="#ff2020"/>
<circle cx="535.60" cy="13.30" r="2.0" fill="#ff2020"/>
</g>
<path d="M349.60,9.30H544.50V166.20" fill="none" stroke="#606060" stroke-width="1.2"/>
<path d="M349.60,9.30V166.20H544.50" fill="none" stroke="#2e2e2e" stroke-width="1.1" stroke-linecap="square"/>
<line x1="358.40" y1="166.20" x2="358.40" y2="163.60" stroke="#2a2a2a" stroke-width="1" />
<text x="363.23" y="175.40" font-size="8.9" text-anchor="end" fill="#1a1a1a" class="tk" >−5</text>
<line x1="376.12" y1="166.20" x2="376.12" y2="163.60" stroke="#2a2a2a" stroke-width="1" />
<text x="378.95" y="175.40" font-size="8.9" text-anchor="end" fill="#1a1a1a" class="tk" >−4</text>
<line x1="393.84" y1="166.20" x2="393.84" y2="163.60" stroke="#2a2a2a" stroke-width="1" />
<text x="396.67" y="175.40" font-size="8.9" text-anchor="end" fill="#1a1a1a" class="tk" >−3</text>
<line x1="411.56" y1="166.20" x2="411.56" y2="163.60" stroke="#2a2a2a" stroke-width="1" />
<text x="414.39" y="175.40" font-size="8.9" text-anchor="end" fill="#1a1a1a" class="tk" >−2</text>
<line x1="429.28" y1="166.20" x2="429.28" y2="163.60" stroke="#2a2a2a" stroke-width="1" />
<text x="432.11" y="175.40" font-size="8.9" text-anchor="end" fill="#1a1a1a" class="tk" >−1</text>
<line x1="447.00" y1="166.20" x2="447.00" y2="163.60" stroke="#2a2a2a" stroke-width="1" />
<text x="447.60" y="175.40" font-size="8.9" text-anchor="middle" fill="#1a1a1a" class="tk" >0</text>
<line x1="464.72" y1="166.20" x2="464.72" y2="163.60" stroke="#2a2a2a" stroke-width="1" />
<text x="465.32" y="175.40" font-size="8.9" text-anchor="middle" fill="#1a1a1a" class="tk" >1</text>
<line x1="482.44" y1="166.20" x2="482.44" y2="163.60" stroke="#2a2a2a" stroke-width="1" />
<text x="483.04" y="175.40" font-size="8.9" text-anchor="middle" fill="#1a1a1a" class="tk" >2</text>
<line x1="500.16" y1="166.20" x2="500.16" y2="163.60" stroke="#2a2a2a" stroke-width="1" />
<text x="500.76" y="175.40" font-size="8.9" text-anchor="middle" fill="#1a1a1a" class="tk" >3</text>
<line x1="517.88" y1="166.20" x2="517.88" y2="163.60" stroke="#2a2a2a" stroke-width="1" />
<text x="518.48" y="175.40" font-size="8.9" text-anchor="middle" fill="#1a1a1a" class="tk" >4</text>
<line x1="535.60" y1="166.20" x2="535.60" y2="163.60" stroke="#2a2a2a" stroke-width="1" />
<text x="536.20" y="175.40" font-size="8.9" text-anchor="middle" fill="#1a1a1a" class="tk" >5</text>
<line x1="367.26" y1="166.20" x2="367.26" y2="164.80" stroke="#2a2a2a" stroke-width="1" />
<line x1="384.98" y1="166.20" x2="384.98" y2="164.80" stroke="#2a2a2a" stroke-width="1" />
<line x1="402.70" y1="166.20" x2="402.70" y2="164.80" stroke="#2a2a2a" stroke-width="1" />
<line x1="420.42" y1="166.20" x2="420.42" y2="164.80" stroke="#2a2a2a" stroke-width="1" />
<line x1="438.14" y1="166.20" x2="438.14" y2="164.80" stroke="#2a2a2a" stroke-width="1" />
<line x1="455.86" y1="166.20" x2="455.86" y2="164.80" stroke="#2a2a2a" stroke-width="1" />
<line x1="473.58" y1="166.20" x2="473.58" y2="164.80" stroke="#2a2a2a" stroke-width="1" />
<line x1="491.30" y1="166.20" x2="491.30" y2="164.80" stroke="#2a2a2a" stroke-width="1" />
<line x1="509.02" y1="166.20" x2="509.02" y2="164.80" stroke="#2a2a2a" stroke-width="1" />
<line x1="526.74" y1="166.20" x2="526.74" y2="164.80" stroke="#2a2a2a" stroke-width="1" />
<line x1="349.60" y1="166.20" x2="352.20" y2="166.20" stroke="#2a2a2a" stroke-width="1" />
<text x="348.80" y="167.60" font-size="8.4" text-anchor="end" fill="#1a1a1a" class="tk">10<tspan font-size="5.4" dy="-3.3">−8</tspan></text>
<line x1="349.60" y1="158.33" x2="351.00" y2="158.33" stroke="#2a2a2a" stroke-width="1" />
<line x1="349.60" y1="153.72" x2="351.00" y2="153.72" stroke="#2a2a2a" stroke-width="1" />
<line x1="349.60" y1="150.46" x2="351.00" y2="150.46" stroke="#2a2a2a" stroke-width="1" />
<line x1="349.60" y1="147.92" x2="351.00" y2="147.92" stroke="#2a2a2a" stroke-width="1" />
<line x1="349.60" y1="145.85" x2="351.00" y2="145.85" stroke="#2a2a2a" stroke-width="1" />
<line x1="349.60" y1="144.10" x2="351.00" y2="144.10" stroke="#2a2a2a" stroke-width="1" />
<line x1="349.60" y1="142.58" x2="351.00" y2="142.58" stroke="#2a2a2a" stroke-width="1" />
<line x1="349.60" y1="141.25" x2="351.00" y2="141.25" stroke="#2a2a2a" stroke-width="1" />
<line x1="349.60" y1="140.05" x2="352.20" y2="140.05" stroke="#2a2a2a" stroke-width="1" />
<text x="348.80" y="141.45" font-size="8.4" text-anchor="end" fill="#1a1a1a" class="tk">10<tspan font-size="5.4" dy="-3.3">−7</tspan></text>
<line x1="349.60" y1="132.18" x2="351.00" y2="132.18" stroke="#2a2a2a" stroke-width="1" />
<line x1="349.60" y1="127.57" x2="351.00" y2="127.57" stroke="#2a2a2a" stroke-width="1" />
<line x1="349.60" y1="124.31" x2="351.00" y2="124.31" stroke="#2a2a2a" stroke-width="1" />
<line x1="349.60" y1="121.77" x2="351.00" y2="121.77" stroke="#2a2a2a" stroke-width="1" />
<line x1="349.60" y1="119.70" x2="351.00" y2="119.70" stroke="#2a2a2a" stroke-width="1" />
<line x1="349.60" y1="117.95" x2="351.00" y2="117.95" stroke="#2a2a2a" stroke-width="1" />
<line x1="349.60" y1="116.43" x2="351.00" y2="116.43" stroke="#2a2a2a" stroke-width="1" />
<line x1="349.60" y1="115.10" x2="351.00" y2="115.10" stroke="#2a2a2a" stroke-width="1" />
<line x1="349.60" y1="113.90" x2="352.20" y2="113.90" stroke="#2a2a2a" stroke-width="1" />
<text x="348.80" y="115.30" font-size="8.4" text-anchor="end" fill="#1a1a1a" class="tk">10<tspan font-size="5.4" dy="-3.3">−6</tspan></text>
<line x1="349.60" y1="106.03" x2="351.00" y2="106.03" stroke="#2a2a2a" stroke-width="1" />
<line x1="349.60" y1="101.42" x2="351.00" y2="101.42" stroke="#2a2a2a" stroke-width="1" />
<line x1="349.60" y1="98.16" x2="351.00" y2="98.16" stroke="#2a2a2a" stroke-width="1" />
<line x1="349.60" y1="95.62" x2="351.00" y2="95.62" stroke="#2a2a2a" stroke-width="1" />
<line x1="349.60" y1="93.55" x2="351.00" y2="93.55" stroke="#2a2a2a" stroke-width="1" />
<line x1="349.60" y1="91.80" x2="351.00" y2="91.80" stroke="#2a2a2a" stroke-width="1" />
<line x1="349.60" y1="90.28" x2="351.00" y2="90.28" stroke="#2a2a2a" stroke-width="1" />
<line x1="349.60" y1="88.95" x2="351.00" y2="88.95" stroke="#2a2a2a" stroke-width="1" />
<line x1="349.60" y1="87.75" x2="352.20" y2="87.75" stroke="#2a2a2a" stroke-width="1" />
<text x="348.80" y="89.15" font-size="8.4" text-anchor="end" fill="#1a1a1a" class="tk">10<tspan font-size="5.4" dy="-3.3">−5</tspan></text>
<line x1="349.60" y1="79.88" x2="351.00" y2="79.88" stroke="#2a2a2a" stroke-width="1" />
<line x1="349.60" y1="75.27" x2="351.00" y2="75.27" stroke="#2a2a2a" stroke-width="1" />
<line x1="349.60" y1="72.01" x2="351.00" y2="72.01" stroke="#2a2a2a" stroke-width="1" />
<line x1="349.60" y1="69.47" x2="351.00" y2="69.47" stroke="#2a2a2a" stroke-width="1" />
<line x1="349.60" y1="67.40" x2="351.00" y2="67.40" stroke="#2a2a2a" stroke-width="1" />
<line x1="349.60" y1="65.65" x2="351.00" y2="65.65" stroke="#2a2a2a" stroke-width="1" />
<line x1="349.60" y1="64.13" x2="351.00" y2="64.13" stroke="#2a2a2a" stroke-width="1" />
<line x1="349.60" y1="62.80" x2="351.00" y2="62.80" stroke="#2a2a2a" stroke-width="1" />
<line x1="349.60" y1="61.60" x2="352.20" y2="61.60" stroke="#2a2a2a" stroke-width="1" />
<text x="348.80" y="63.00" font-size="8.4" text-anchor="end" fill="#1a1a1a" class="tk">10<tspan font-size="5.4" dy="-3.3">−4</tspan></text>
<line x1="349.60" y1="53.73" x2="351.00" y2="53.73" stroke="#2a2a2a" stroke-width="1" />
<line x1="349.60" y1="49.12" x2="351.00" y2="49.12" stroke="#2a2a2a" stroke-width="1" />
<line x1="349.60" y1="45.86" x2="351.00" y2="45.86" stroke="#2a2a2a" stroke-width="1" />
<line x1="349.60" y1="43.32" x2="351.00" y2="43.32" stroke="#2a2a2a" stroke-width="1" />
<line x1="349.60" y1="41.25" x2="351.00" y2="41.25" stroke="#2a2a2a" stroke-width="1" />
<line x1="349.60" y1="39.50" x2="351.00" y2="39.50" stroke="#2a2a2a" stroke-width="1" />
<line x1="349.60" y1="37.98" x2="351.00" y2="37.98" stroke="#2a2a2a" stroke-width="1" />
<line x1="349.60" y1="36.65" x2="351.00" y2="36.65" stroke="#2a2a2a" stroke-width="1" />
<line x1="349.60" y1="35.45" x2="352.20" y2="35.45" stroke="#2a2a2a" stroke-width="1" />
<text x="348.80" y="36.85" font-size="8.4" text-anchor="end" fill="#1a1a1a" class="tk">10<tspan font-size="5.4" dy="-3.3">−3</tspan></text>
<line x1="349.60" y1="27.58" x2="351.00" y2="27.58" stroke="#2a2a2a" stroke-width="1" />
<line x1="349.60" y1="22.97" x2="351.00" y2="22.97" stroke="#2a2a2a" stroke-width="1" />
<line x1="349.60" y1="19.71" x2="351.00" y2="19.71" stroke="#2a2a2a" stroke-width="1" />
<line x1="349.60" y1="17.17" x2="351.00" y2="17.17" stroke="#2a2a2a" stroke-width="1" />
<line x1="349.60" y1="15.10" x2="351.00" y2="15.10" stroke="#2a2a2a" stroke-width="1" />
<line x1="349.60" y1="13.35" x2="351.00" y2="13.35" stroke="#2a2a2a" stroke-width="1" />
<line x1="349.60" y1="11.83" x2="351.00" y2="11.83" stroke="#2a2a2a" stroke-width="1" />
<line x1="349.60" y1="10.50" x2="351.00" y2="10.50" stroke="#2a2a2a" stroke-width="1" />
<line x1="349.60" y1="9.30" x2="352.20" y2="9.30" stroke="#2a2a2a" stroke-width="1" />
<text x="348.80" y="10.70" font-size="8.4" text-anchor="end" fill="#1a1a1a" class="tk">10<tspan font-size="5.4" dy="-3.3">−2</tspan></text>
<text x="447.20" y="187.50" font-size="12.5" text-anchor="middle" fill="#1a1a1a" >Applied voltage (V)</text>
<text transform="translate(329.2,87.5) rotate(-90)" font-size="12.7" text-anchor="middle" fill="#1a1a1a">Current (A)</text>
<text x="319.40" y="14.30" font-size="12.3" text-anchor="start" fill="#1a1a1a" class="pl" >(b)</text>
<text x="463.3" y="116.9" font-size="10.3" fill="#1a1a1a"><tspan font-style="italic">T</tspan> = 150 °C</text>
<line x1="462.70" y1="128.40" x2="491.70" y2="128.40" stroke="#333" stroke-width="0.9" />
<rect x="475.75" y="126.75" width="3.3" height="3.3" fill="#333"/>
<text x="492.80" y="133.00" font-size="10.3" text-anchor="start" fill="#1a1a1a" >pure air</text>
<line x1="462.70" y1="148.10" x2="491.70" y2="148.10" stroke="#ff2a2a" stroke-width="0.9" />
<circle cx="477.40" cy="148.10" r="2.0" fill="#ff2020"/>
<text x="492.8" y="152.0" font-size="10.4" fill="#1a1a1a">10<tspan font-size="8.6" dy="-6.2" dx="0.4">4</tspan><tspan dy="6.2" dx="0.3"> ppm </tspan><tspan dx="0.8">H</tspan><tspan font-size="8.8" dy="3.2" dx="0.2">2</tspan></text>
<path d="M386.30,11.30H453.30V66.20" fill="none" stroke="#b4b4b4" stroke-width="0.9"/>
<path d="M386.30,11.30V66.20H453.30" fill="none" stroke="#9a9a9a" stroke-width="0.8" stroke-linecap="square"/>
<polyline points="389.35,63.20 390.88,63.20 392.42,63.20 393.95,63.20 395.48,63.20 397.01,63.20 398.55,63.20 400.08,63.20 401.61,63.20 403.14,63.20 404.68,63.20 406.21,63.20 407.74,63.20 409.27,63.20 410.81,63.20 412.34,63.20 413.87,63.20 415.40,63.20 416.94,63.20 418.47,63.20 420.00,63.20 421.53,63.20 423.06,63.20 424.60,63.19 426.13,63.11 427.66,62.90 429.19,62.60 430.73,62.12 432.26,61.61 433.79,60.87 435.32,59.92 436.86,58.89 438.39,57.54 439.92,56.21 441.45,54.86 442.99,53.26 444.52,51.75 446.05,49.91 447.58,47.62 449.12,45.27 450.65,42.73" fill="none" stroke="#333" stroke-width="0.6" stroke-linejoin="round"/>
<polyline points="389.35,63.20 390.88,63.20 392.42,63.20 393.95,63.20 395.48,63.20 397.01,63.20 398.55,63.20 400.08,63.20 401.61,63.20 403.14,63.20 404.68,63.20 406.21,63.20 407.74,63.20 409.27,63.20 410.81,63.20 412.34,63.20 413.87,63.20 415.40,63.20 416.94,63.20 418.47,63.20 420.00,63.20 421.53,63.20 423.06,63.17 424.60,62.91 426.13,62.44 427.66,61.77 429.19,60.79 430.73,59.62 432.26,58.11 433.79,56.45 435.32,54.18 436.86,51.55 438.39,49.18 439.92,46.19 441.45,42.73 442.99,39.22 444.52,35.35 446.05,32.24 447.58,27.56 449.12,22.88 450.65,17.99" fill="none" stroke="#ff2a2a" stroke-width="0.6" stroke-linejoin="round"/>
<rect x="388.80" y="62.65" width="1.1" height="1.1" fill="#333"/>
<rect x="390.33" y="62.65" width="1.1" height="1.1" fill="#333"/>
<rect x="391.87" y="62.65" width="1.1" height="1.1" fill="#333"/>
<rect x="393.40" y="62.65" width="1.1" height="1.1" fill="#333"/>
<rect x="394.93" y="62.65" width="1.1" height="1.1" fill="#333"/>
<rect x="396.46" y="62.65" width="1.1" height="1.1" fill="#333"/>
<rect x="398.00" y="62.65" width="1.1" height="1.1" fill="#333"/>
<rect x="399.53" y="62.65" width="1.1" height="1.1" fill="#333"/>
<rect x="401.06" y="62.65" width="1.1" height="1.1" fill="#333"/>
<rect x="402.59" y="62.65" width="1.1" height="1.1" fill="#333"/>
<rect x="404.12" y="62.65" width="1.1" height="1.1" fill="#333"/>
<rect x="405.66" y="62.65" width="1.1" height="1.1" fill="#333"/>
<rect x="407.19" y="62.65" width="1.1" height="1.1" fill="#333"/>
<rect x="408.72" y="62.65" width="1.1" height="1.1" fill="#333"/>
<rect x="410.25" y="62.65" width="1.1" height="1.1" fill="#333"/>
<rect x="411.79" y="62.65" width="1.1" height="1.1" fill="#333"/>
<rect x="413.32" y="62.65" width="1.1" height="1.1" fill="#333"/>
<rect x="414.85" y="62.65" width="1.1" height="1.1" fill="#333"/>
<rect x="416.38" y="62.65" width="1.1" height="1.1" fill="#333"/>
<rect x="417.92" y="62.65" width="1.1" height="1.1" fill="#333"/>
<rect x="419.45" y="62.65" width="1.1" height="1.1" fill="#333"/>
<rect x="420.98" y="62.65" width="1.1" height="1.1" fill="#333"/>
<rect x="422.51" y="62.65" width="1.1" height="1.1" fill="#333"/>
<rect x="424.05" y="62.64" width="1.1" height="1.1" fill="#333"/>
<rect x="425.58" y="62.56" width="1.1" height="1.1" fill="#333"/>
<rect x="427.11" y="62.35" width="1.1" height="1.1" fill="#333"/>
<rect x="428.64" y="62.05" width="1.1" height="1.1" fill="#333"/>
<rect x="430.18" y="61.57" width="1.1" height="1.1" fill="#333"/>
<rect x="431.71" y="61.06" width="1.1" height="1.1" fill="#333"/>
<rect x="433.24" y="60.32" width="1.1" height="1.1" fill="#333"/>
<rect x="434.77" y="59.37" width="1.1" height="1.1" fill="#333"/>
<rect x="436.31" y="58.34" width="1.1" height="1.1" fill="#333"/>
<rect x="437.84" y="56.99" width="1.1" height="1.1" fill="#333"/>
<rect x="439.37" y="55.66" width="1.1" height="1.1" fill="#333"/>
<rect x="440.90" y="54.31" width="1.1" height="1.1" fill="#333"/>
<rect x="442.44" y="52.71" width="1.1" height="1.1" fill="#333"/>
<rect x="443.97" y="51.20" width="1.1" height="1.1" fill="#333"/>
<rect x="445.50" y="49.36" width="1.1" height="1.1" fill="#333"/>
<rect x="447.03" y="47.07" width="1.1" height="1.1" fill="#333"/>
<rect x="448.57" y="44.72" width="1.1" height="1.1" fill="#333"/>
<rect x="450.10" y="42.18" width="1.1" height="1.1" fill="#333"/>
<circle cx="389.35" cy="63.20" r="0.75" fill="#f22"/>
<circle cx="390.88" cy="63.20" r="0.75" fill="#f22"/>
<circle cx="392.42" cy="63.20" r="0.75" fill="#f22"/>
<circle cx="393.95" cy="63.20" r="0.75" fill="#f22"/>
<circle cx="395.48" cy="63.20" r="0.75" fill="#f22"/>
<circle cx="397.01" cy="63.20" r="0.75" fill="#f22"/>
<circle cx="398.55" cy="63.20" r="0.75" fill="#f22"/>
<circle cx="400.08" cy="63.20" r="0.75" fill="#f22"/>
<circle cx="401.61" cy="63.20" r="0.75" fill="#f22"/>
<circle cx="403.14" cy="63.20" r="0.75" fill="#f22"/>
<circle cx="404.68" cy="63.20" r="0.75" fill="#f22"/>
<circle cx="406.21" cy="63.20" r="0.75" fill="#f22"/>
<circle cx="407.74" cy="63.20" r="0.75" fill="#f22"/>
<circle cx="409.27" cy="63.20" r="0.75" fill="#f22"/>
<circle cx="410.81" cy="63.20" r="0.75" fill="#f22"/>
<circle cx="412.34" cy="63.20" r="0.75" fill="#f22"/>
<circle cx="413.87" cy="63.20" r="0.75" fill="#f22"/>
<circle cx="415.40" cy="63.20" r="0.75" fill="#f22"/>
<circle cx="416.94" cy="63.20" r="0.75" fill="#f22"/>
<circle cx="418.47" cy="63.20" r="0.75" fill="#f22"/>
<circle cx="420.00" cy="63.20" r="0.75" fill="#f22"/>
<circle cx="421.53" cy="63.20" r="0.75" fill="#f22"/>
<circle cx="423.06" cy="63.17" r="0.75" fill="#f22"/>
<circle cx="424.60" cy="62.91" r="0.75" fill="#f22"/>
<circle cx="426.13" cy="62.44" r="0.75" fill="#f22"/>
<circle cx="427.66" cy="61.77" r="0.75" fill="#f22"/>
<circle cx="429.19" cy="60.79" r="0.75" fill="#f22"/>
<circle cx="430.73" cy="59.62" r="0.75" fill="#f22"/>
<circle cx="432.26" cy="58.11" r="0.75" fill="#f22"/>
<circle cx="433.79" cy="56.45" r="0.75" fill="#f22"/>
<circle cx="435.32" cy="54.18" r="0.75" fill="#f22"/>
<circle cx="436.86" cy="51.55" r="0.75" fill="#f22"/>
<circle cx="438.39" cy="49.18" r="0.75" fill="#f22"/>
<circle cx="439.92" cy="46.19" r="0.75" fill="#f22"/>
<circle cx="441.45" cy="42.73" r="0.75" fill="#f22"/>
<circle cx="442.99" cy="39.22" r="0.75" fill="#f22"/>
<circle cx="444.52" cy="35.35" r="0.75" fill="#f22"/>
<circle cx="446.05" cy="32.24" r="0.75" fill="#f22"/>
<circle cx="447.58" cy="27.56" r="0.75" fill="#f22"/>
<circle cx="449.12" cy="22.88" r="0.75" fill="#f22"/>
<circle cx="450.65" cy="17.99" r="0.75" fill="#f22"/>
<text x="385.10" y="64.40" font-size="3.6" text-anchor="end" fill="#1a1a1a" class="sm" >0</text>
<line x1="386.30" y1="63.20" x2="387.50" y2="63.20" stroke="#888" stroke-width="0.5" />
<text x="385.10" y="57.97" font-size="3.6" text-anchor="end" fill="#1a1a1a" class="sm" >1</text>
<line x1="386.30" y1="56.77" x2="387.50" y2="56.77" stroke="#888" stroke-width="0.5" />
<text x="385.10" y="51.54" font-size="3.6" text-anchor="end" fill="#1a1a1a" class="sm" >2</text>
<line x1="386.30" y1="50.34" x2="387.50" y2="50.34" stroke="#888" stroke-width="0.5" />
<text x="385.10" y="45.11" font-size="3.6" text-anchor="end" fill="#1a1a1a" class="sm" >3</text>
<line x1="386.30" y1="43.91" x2="387.50" y2="43.91" stroke="#888" stroke-width="0.5" />
<text x="385.10" y="38.68" font-size="3.6" text-anchor="end" fill="#1a1a1a" class="sm" >4</text>
<line x1="386.30" y1="37.48" x2="387.50" y2="37.48" stroke="#888" stroke-width="0.5" />
<text x="385.10" y="32.25" font-size="3.6" text-anchor="end" fill="#1a1a1a" class="sm" >5</text>
<line x1="386.30" y1="31.05" x2="387.50" y2="31.05" stroke="#888" stroke-width="0.5" />
<text x="385.10" y="25.82" font-size="3.6" text-anchor="end" fill="#1a1a1a" class="sm" >6</text>
<line x1="386.30" y1="24.62" x2="387.50" y2="24.62" stroke="#888" stroke-width="0.5" />
<text x="385.10" y="19.39" font-size="3.6" text-anchor="end" fill="#1a1a1a" class="sm" >7</text>
<line x1="386.30" y1="18.19" x2="387.50" y2="18.19" stroke="#888" stroke-width="0.5" />
<text x="389.35" y="70.40" font-size="3.6" text-anchor="middle" fill="#1a1a1a" class="sm" >−5</text>
<line x1="389.35" y1="66.20" x2="389.35" y2="65.00" stroke="#888" stroke-width="0.5" />
<text x="395.48" y="70.40" font-size="3.6" text-anchor="middle" fill="#1a1a1a" class="sm" >−4</text>
<line x1="395.48" y1="66.20" x2="395.48" y2="65.00" stroke="#888" stroke-width="0.5" />
<text x="401.61" y="70.40" font-size="3.6" text-anchor="middle" fill="#1a1a1a" class="sm" >−3</text>
<line x1="401.61" y1="66.20" x2="401.61" y2="65.00" stroke="#888" stroke-width="0.5" />
<text x="407.74" y="70.40" font-size="3.6" text-anchor="middle" fill="#1a1a1a" class="sm" >−2</text>
<line x1="407.74" y1="66.20" x2="407.74" y2="65.00" stroke="#888" stroke-width="0.5" />
<text x="413.87" y="70.40" font-size="3.6" text-anchor="middle" fill="#1a1a1a" class="sm" >−1</text>
<line x1="413.87" y1="66.20" x2="413.87" y2="65.00" stroke="#888" stroke-width="0.5" />
<text x="420.00" y="70.40" font-size="3.6" text-anchor="middle" fill="#1a1a1a" class="sm" >0</text>
<line x1="420.00" y1="66.20" x2="420.00" y2="65.00" stroke="#888" stroke-width="0.5" />
<text x="426.13" y="70.40" font-size="3.6" text-anchor="middle" fill="#1a1a1a" class="sm" >1</text>
<line x1="426.13" y1="66.20" x2="426.13" y2="65.00" stroke="#888" stroke-width="0.5" />
<text x="432.26" y="70.40" font-size="3.6" text-anchor="middle" fill="#1a1a1a" class="sm" >2</text>
<line x1="432.26" y1="66.20" x2="432.26" y2="65.00" stroke="#888" stroke-width="0.5" />
<text x="438.39" y="70.40" font-size="3.6" text-anchor="middle" fill="#1a1a1a" class="sm" >3</text>
<line x1="438.39" y1="66.20" x2="438.39" y2="65.00" stroke="#888" stroke-width="0.5" />
<text x="444.52" y="70.40" font-size="3.6" text-anchor="middle" fill="#1a1a1a" class="sm" >4</text>
<line x1="444.52" y1="66.20" x2="444.52" y2="65.00" stroke="#888" stroke-width="0.5" />
<text x="450.65" y="70.40" font-size="3.6" text-anchor="middle" fill="#1a1a1a" class="sm" >5</text>
<line x1="450.65" y1="66.20" x2="450.65" y2="65.00" stroke="#888" stroke-width="0.5" />
<text x="420.10" y="79.60" font-size="9.25" text-anchor="middle" fill="#1a1a1a" class="md" >Applied voltage (V)</text>
<text transform="translate(381.2,38.5) rotate(-90)" font-size="9.7" text-anchor="middle" fill="#1a1a1a">Current (mA)</text>
<text x="388.3" y="18.6" font-size="6.6" fill="#1a1a1a" class="sm"><tspan font-style="italic">T</tspan> = 150 °C</text>
<line x1="388.00" y1="23.90" x2="402.00" y2="23.90" stroke="#333" stroke-width="0.6" />
<rect x="394.40" y="23.30" width="1.2" height="1.2" fill="#333"/>
<text x="403.40" y="26.20" font-size="6.6" text-anchor="start" fill="#1a1a1a" class="sm" >pure air</text>
<line x1="388.00" y1="32.50" x2="402.00" y2="32.50" stroke="#ff2a2a" stroke-width="0.6" />
<circle cx="395.00" cy="32.50" r="0.7" fill="#f22"/>
<text x="403.4" y="35.0" font-size="6.6" fill="#1a1a1a" class="sm">10<tspan font-size="4.4" dy="-3">4</tspan><tspan dy="3"> ppm H</tspan><tspan font-size="4.4" dy="1.5">2</tspan></text>
<path d="M213.30,195.00H409.30V352.60" fill="none" stroke="#858585" stroke-width="1.5"/>
<path d="M213.30,195.00V352.60H409.30" fill="none" stroke="#707070" stroke-width="1.4" stroke-linecap="square"/>
<line x1="222.00" y1="352.60" x2="222.00" y2="350.00" stroke="#2a2a2a" stroke-width="1" />
<text x="226.30" y="362.60" font-size="8.4" text-anchor="end" fill="#1a1a1a" class="tk" >−5</text>
<line x1="239.87" y1="352.60" x2="239.87" y2="350.00" stroke="#2a2a2a" stroke-width="1" />
<text x="241.97" y="362.60" font-size="8.4" text-anchor="end" fill="#1a1a1a" class="tk" >−4</text>
<line x1="257.74" y1="352.60" x2="257.74" y2="350.00" stroke="#2a2a2a" stroke-width="1" />
<text x="259.84" y="362.60" font-size="8.4" text-anchor="end" fill="#1a1a1a" class="tk" >−3</text>
<line x1="275.61" y1="352.60" x2="275.61" y2="350.00" stroke="#2a2a2a" stroke-width="1" />
<text x="277.71" y="362.60" font-size="8.4" text-anchor="end" fill="#1a1a1a" class="tk" >−2</text>
<line x1="293.48" y1="352.60" x2="293.48" y2="350.00" stroke="#2a2a2a" stroke-width="1" />
<text x="295.58" y="362.60" font-size="8.4" text-anchor="end" fill="#1a1a1a" class="tk" >−1</text>
<line x1="311.35" y1="352.60" x2="311.35" y2="350.00" stroke="#2a2a2a" stroke-width="1" />
<text x="311.35" y="362.60" font-size="8.4" text-anchor="middle" fill="#1a1a1a" class="tk" >0</text>
<line x1="329.22" y1="352.60" x2="329.22" y2="350.00" stroke="#2a2a2a" stroke-width="1" />
<text x="329.22" y="362.60" font-size="8.4" text-anchor="middle" fill="#1a1a1a" class="tk" >1</text>
<line x1="347.09" y1="352.60" x2="347.09" y2="350.00" stroke="#2a2a2a" stroke-width="1" />
<text x="347.09" y="362.60" font-size="8.4" text-anchor="middle" fill="#1a1a1a" class="tk" >2</text>
<line x1="364.96" y1="352.60" x2="364.96" y2="350.00" stroke="#2a2a2a" stroke-width="1" />
<text x="364.96" y="362.60" font-size="8.4" text-anchor="middle" fill="#1a1a1a" class="tk" >3</text>
<line x1="382.83" y1="352.60" x2="382.83" y2="350.00" stroke="#2a2a2a" stroke-width="1" />
<text x="382.83" y="362.60" font-size="8.4" text-anchor="middle" fill="#1a1a1a" class="tk" >4</text>
<line x1="400.70" y1="352.60" x2="400.70" y2="350.00" stroke="#2a2a2a" stroke-width="1" />
<text x="400.70" y="362.60" font-size="8.4" text-anchor="middle" fill="#1a1a1a" class="tk" >5</text>
<line x1="230.94" y1="352.60" x2="230.94" y2="351.20" stroke="#2a2a2a" stroke-width="1" />
<line x1="248.81" y1="352.60" x2="248.81" y2="351.20" stroke="#2a2a2a" stroke-width="1" />
<line x1="266.68" y1="352.60" x2="266.68" y2="351.20" stroke="#2a2a2a" stroke-width="1" />
<line x1="284.55" y1="352.60" x2="284.55" y2="351.20" stroke="#2a2a2a" stroke-width="1" />
<line x1="302.42" y1="352.60" x2="302.42" y2="351.20" stroke="#2a2a2a" stroke-width="1" />
<line x1="320.29" y1="352.60" x2="320.29" y2="351.20" stroke="#2a2a2a" stroke-width="1" />
<line x1="338.16" y1="352.60" x2="338.16" y2="351.20" stroke="#2a2a2a" stroke-width="1" />
<line x1="356.03" y1="352.60" x2="356.03" y2="351.20" stroke="#2a2a2a" stroke-width="1" />
<line x1="373.90" y1="352.60" x2="373.90" y2="351.20" stroke="#2a2a2a" stroke-width="1" />
<line x1="391.77" y1="352.60" x2="391.77" y2="351.20" stroke="#2a2a2a" stroke-width="1" />
<line x1="213.30" y1="352.50" x2="216.30" y2="352.50" stroke="#2a2a2a" stroke-width="1" />
<line x1="213.30" y1="250.40" x2="216.30" y2="250.40" stroke="#2a2a2a" stroke-width="1" />
<text x="209.70" y="253.0" font-size="8.4" text-anchor="end" fill="#1a1a1a" class="tk">10</text>
<text x="209.30" y="355.6" font-size="8.4" text-anchor="end" fill="#1a1a1a" class="tk">1</text>
<line x1="213.30" y1="321.76" x2="214.90" y2="321.76" stroke="#2a2a2a" stroke-width="1" />
<line x1="213.30" y1="303.79" x2="214.90" y2="303.79" stroke="#2a2a2a" stroke-width="1" />
<line x1="213.30" y1="291.03" x2="214.90" y2="291.03" stroke="#2a2a2a" stroke-width="1" />
<line x1="213.30" y1="281.14" x2="214.90" y2="281.14" stroke="#2a2a2a" stroke-width="1" />
<line x1="213.30" y1="273.05" x2="214.90" y2="273.05" stroke="#2a2a2a" stroke-width="1" />
<line x1="213.30" y1="266.22" x2="214.90" y2="266.22" stroke="#2a2a2a" stroke-width="1" />
<line x1="213.30" y1="260.29" x2="214.90" y2="260.29" stroke="#2a2a2a" stroke-width="1" />
<line x1="213.30" y1="255.07" x2="214.90" y2="255.07" stroke="#2a2a2a" stroke-width="1" />
<line x1="213.30" y1="219.66" x2="214.90" y2="219.66" stroke="#2a2a2a" stroke-width="1" />
<line x1="213.30" y1="201.69" x2="214.90" y2="201.69" stroke="#2a2a2a" stroke-width="1" />
<text x="310.95" y="375.40" font-size="12.65" text-anchor="middle" fill="#1a1a1a" >Applied voltage (V)</text>
<text transform="translate(197.9,274) rotate(-90)" font-size="12.6" text-anchor="middle" fill="#1a1a1a">Current response (arb. un.)</text>
<text x="189.6" y="199.4" font-size="11.5" fill="#1a1a1a" class="pl" textLength="13.6" lengthAdjust="spacingAndGlyphs">(c)</text>
<clipPath id="cc"><rect x="213.3" y="195.0" width="196.0" height="157.60000000000002"/></clipPath>
<g clip-path="url(#cc)">
<polyline points="222.00,342.20 222.56,342.35 223.12,342.51 223.68,342.68 224.23,342.84 224.79,343.00 225.35,343.14 225.91,343.28 226.47,343.40 227.03,343.51 227.58,343.60 228.14,343.69 228.70,343.77 229.26,343.85 229.82,343.93 230.38,344.02 230.94,344.10 231.49,344.19 232.05,344.27 232.61,344.36 233.17,344.44 233.73,344.53 234.29,344.62 234.84,344.71 235.40,344.80 235.96,344.90 236.52,345.00 237.08,345.10 237.64,345.20 238.19,345.30 238.75,345.40 239.31,345.50 239.87,345.60 240.43,345.69 240.99,345.79 241.55,345.88 242.10,345.97 242.66,346.06 243.22,346.14 243.78,346.22 244.34,346.30 244.90,346.37 245.45,346.44 246.01,346.50 246.57,346.57 247.13,346.63 247.69,346.69 248.25,346.74 248.81,346.80 249.36,346.86 249.92,346.91 250.48,346.97 251.04,347.02 251.60,347.07 252.16,347.12 252.71,347.16 253.27,347.20 253.83,347.23 254.39,347.26 254.95,347.29 255.51,347.32 256.06,347.34 256.62,347.36 257.18,347.38 257.74,347.40 258.30,347.42 258.86,347.43 259.42,347.45 259.97,347.47 260.53,347.48 261.09,347.49 261.65,347.50 262.21,347.50 262.77,347.50 263.32,347.50 263.88,347.50 264.44,347.50 265.00,347.50 265.56,347.50 266.12,347.50 266.68,347.50 267.23,347.50 267.79,347.50 268.35,347.50 268.91,347.50 269.47,347.50 270.03,347.50 270.58,347.50 271.14,347.50 271.70,347.50 272.26,347.50 272.82,347.50 273.38,347.50 273.93,347.50 274.49,347.50 275.05,347.50 275.61,347.50 276.17,347.50 276.73,347.50 277.29,347.50 277.84,347.50 278.40,347.50 278.96,347.50 279.52,347.50 280.08,347.50 280.64,347.50 281.19,347.49 281.75,347.48 282.31,347.46 282.87,347.45 283.43,347.43 283.99,347.41 284.55,347.40 285.10,347.39 285.66,347.37 286.22,347.35 286.78,347.34 287.34,347.32 287.90,347.31 288.45,347.30 289.01,347.30 289.57,347.30 290.13,347.30 290.69,347.30 291.25,347.30 291.80,347.30 292.36,347.30 292.92,347.30 293.48,347.30 294.04,347.30 294.60,347.28 295.16,347.26 295.71,347.23 296.27,347.20 296.83,347.17 297.39,347.13 297.95,347.10 298.51,347.06 299.06,347.02 299.62,346.98 300.18,346.93 300.74,346.88 301.30,346.82 301.86,346.76 302.42,346.70 302.97,346.64 303.53,346.58 304.09,346.51 304.65,346.44 305.21,346.36 305.77,346.26 306.32,346.14 306.88,346.00 308.00,344.47 309.12,340.72 310.23,335.03 311.35,327.71 312.47,319.07 313.58,309.40 314.70,299.01 315.82,288.20 316.38,280.84 316.93,270.51 317.49,258.42 318.05,245.79 318.61,233.84 319.17,223.80 319.73,216.88 320.29,214.30 320.84,216.48 321.40,222.32 321.96,230.75 322.52,240.69 323.08,251.09 323.64,260.87 324.19,268.96 324.75,274.30 325.31,277.74 325.87,280.86 326.43,283.67 326.99,286.17 327.54,288.37 328.10,290.29 328.66,291.93 329.22,293.30 329.78,294.47 330.34,295.50 330.90,296.42 331.45,297.24 332.01,297.99 332.57,298.69 333.13,299.35 333.69,300.00 334.25,300.64 334.80,301.25 335.36,301.84 335.92,302.40 336.48,302.91 337.04,303.39 337.60,303.82 338.16,304.20 338.71,304.53 339.27,304.83 339.83,305.09 340.39,305.34 340.95,305.58 341.51,305.82 342.06,306.05 342.62,306.30 343.18,306.56 343.74,306.82 344.30,307.08 344.86,307.34 345.41,307.60 345.97,307.84 346.53,308.08 347.09,308.30 347.65,308.51 348.21,308.71 348.77,308.90 349.32,309.09 349.88,309.27 350.44,309.45 351.00,309.63 351.56,309.80 352.12,309.97 352.67,310.15 353.23,310.32 353.79,310.48 354.35,310.65 354.91,310.80 355.47,310.95 356.03,311.10 356.58,311.24 357.14,311.37 357.70,311.49 358.26,311.61 358.82,311.73 359.38,311.85 359.93,311.97 360.49,312.10 361.05,312.23 361.61,312.37 362.17,312.51 362.73,312.65 363.28,312.79 363.84,312.93 364.40,313.07 364.96,313.20 365.52,313.33 366.08,313.46 366.64,313.59 367.19,313.72 367.75,313.85 368.31,313.97 368.87,314.09 369.43,314.20 369.99,314.31 370.54,314.41 371.10,314.52 371.66,314.62 372.22,314.72 372.78,314.81 373.34,314.91 373.90,315.00 374.45,315.09 375.01,315.18 375.57,315.27 376.13,315.36 376.69,315.45 377.25,315.53 377.80,315.62 378.36,315.70 378.92,315.78 379.48,315.86 380.04,315.94 380.60,316.01 381.15,316.09 381.71,316.16 382.27,316.23 382.83,316.30 383.39,316.37 383.95,316.44 384.51,316.51 385.06,316.58 385.62,316.65 386.18,316.71 386.74,316.76 387.30,316.80 387.86,316.84 388.41,316.87 388.97,316.91 389.53,316.94 390.09,316.96 390.65,316.98 391.21,317.00 391.77,317.00 392.32,317.00 392.88,317.00 393.44,317.00 394.00,317.00 394.56,317.00 395.12,317.00 395.67,317.00 396.23,317.00 396.79,316.99 397.35,316.98 397.91,316.95 398.47,316.92 399.02,316.89 399.58,316.86 400.14,316.83 400.70,316.80" fill="none" stroke="#111" stroke-width="0.8" stroke-linejoin="round"/>
<rect x="220.35" y="340.55" width="3.3" height="3.3" fill="#000"/>
<rect x="224.82" y="341.75" width="3.3" height="3.3" fill="#000"/>
<rect x="229.28" y="342.45" width="3.3" height="3.3" fill="#000"/>
<rect x="233.75" y="343.15" width="3.3" height="3.3" fill="#000"/>
<rect x="238.22" y="343.95" width="3.3" height="3.3" fill="#000"/>
<rect x="242.69" y="344.65" width="3.3" height="3.3" fill="#000"/>
<rect x="247.16" y="345.15" width="3.3" height="3.3" fill="#000"/>
<rect x="251.62" y="345.55" width="3.3" height="3.3" fill="#000"/>
<rect x="256.09" y="345.75" width="3.3" height="3.3" fill="#000"/>
<rect x="260.56" y="345.85" width="3.3" height="3.3" fill="#000"/>
<rect x="265.03" y="345.85" width="3.3" height="3.3" fill="#000"/>
<rect x="269.49" y="345.85" width="3.3" height="3.3" fill="#000"/>
<rect x="273.96" y="345.85" width="3.3" height="3.3" fill="#000"/>
<rect x="278.43" y="345.85" width="3.3" height="3.3" fill="#000"/>
<rect x="282.90" y="345.75" width="3.3" height="3.3" fill="#000"/>
<rect x="287.36" y="345.65" width="3.3" height="3.3" fill="#000"/>
<rect x="291.83" y="345.65" width="3.3" height="3.3" fill="#000"/>
<rect x="296.30" y="345.45" width="3.3" height="3.3" fill="#000"/>
<rect x="300.77" y="345.05" width="3.3" height="3.3" fill="#000"/>
<rect x="305.23" y="344.35" width="3.3" height="3.3" fill="#000"/>
<rect x="314.17" y="286.55" width="3.3" height="3.3" fill="#000"/>
<rect x="318.64" y="212.65" width="3.3" height="3.3" fill="#000"/>
<rect x="323.10" y="272.65" width="3.3" height="3.3" fill="#000"/>
<rect x="327.57" y="291.65" width="3.3" height="3.3" fill="#000"/>
<rect x="332.04" y="298.35" width="3.3" height="3.3" fill="#000"/>
<rect x="336.51" y="302.55" width="3.3" height="3.3" fill="#000"/>
<rect x="340.97" y="304.65" width="3.3" height="3.3" fill="#000"/>
<rect x="345.44" y="306.65" width="3.3" height="3.3" fill="#000"/>
<rect x="349.91" y="308.15" width="3.3" height="3.3" fill="#000"/>
<rect x="354.38" y="309.45" width="3.3" height="3.3" fill="#000"/>
<rect x="358.84" y="310.45" width="3.3" height="3.3" fill="#000"/>
<rect x="363.31" y="311.55" width="3.3" height="3.3" fill="#000"/>
<rect x="367.78" y="312.55" width="3.3" height="3.3" fill="#000"/>
<rect x="372.25" y="313.35" width="3.3" height="3.3" fill="#000"/>
<rect x="376.71" y="314.05" width="3.3" height="3.3" fill="#000"/>
<rect x="381.18" y="314.65" width="3.3" height="3.3" fill="#000"/>
<rect x="385.65" y="315.15" width="3.3" height="3.3" fill="#000"/>
<rect x="390.12" y="315.35" width="3.3" height="3.3" fill="#000"/>
<rect x="394.58" y="315.35" width="3.3" height="3.3" fill="#000"/>
<rect x="399.05" y="315.15" width="3.3" height="3.3" fill="#000"/>
<polyline points="222.00,338.00 222.56,338.02 223.12,338.04 223.68,338.06 224.23,338.08 224.79,338.11 225.35,338.13 225.91,338.16 226.47,338.20 227.03,338.26 227.58,338.34 228.14,338.45 228.70,338.57 229.26,338.70 229.82,338.84 230.38,338.97 230.94,339.10 231.49,339.23 232.05,339.36 232.61,339.50 233.17,339.64 233.73,339.79 234.29,339.93 234.84,340.07 235.40,340.20 235.96,340.33 236.52,340.46 237.08,340.60 237.64,340.73 238.19,340.86 238.75,340.98 239.31,341.09 239.87,341.20 240.43,341.30 240.99,341.40 241.55,341.49 242.10,341.58 242.66,341.67 243.22,341.75 243.78,341.83 244.34,341.90 244.90,341.97 245.45,342.04 246.01,342.11 246.57,342.18 247.13,342.24 247.69,342.30 248.25,342.35 248.81,342.40 249.36,342.45 249.92,342.49 250.48,342.53 251.04,342.57 251.60,342.60 252.16,342.64 252.71,342.67 253.27,342.70 253.83,342.73 254.39,342.76 254.95,342.79 255.51,342.81 256.06,342.84 256.62,342.86 257.18,342.88 257.74,342.90 258.30,342.92 258.86,342.93 259.42,342.94 259.97,342.95 260.53,342.97 261.09,342.98 261.65,342.99 262.21,343.00 262.77,343.01 263.32,343.03 263.88,343.04 264.44,343.05 265.00,343.06 265.56,343.07 266.12,343.09 266.68,343.10 267.23,343.11 267.79,343.13 268.35,343.15 268.91,343.16 269.47,343.18 270.03,343.19 270.58,343.20 271.14,343.20 271.70,343.20 272.26,343.20 272.82,343.20 273.38,343.20 273.93,343.20 274.49,343.20 275.05,343.20 275.61,343.20 276.17,343.20 276.73,343.22 277.29,343.23 277.84,343.25 278.40,343.27 278.96,343.28 279.52,343.30 280.08,343.30 280.64,343.30 281.19,343.30 281.75,343.30 282.31,343.30 282.87,343.30 283.43,343.30 283.99,343.30 284.55,343.30 285.10,343.30 285.66,343.32 286.22,343.33 286.78,343.35 287.34,343.37 287.90,343.38 288.45,343.40 289.01,343.40 289.57,343.40 290.13,343.40 290.69,343.40 291.25,343.40 291.80,343.40 292.36,343.40 292.92,343.40 293.48,343.40 294.04,343.40 294.60,343.40 295.16,343.40 295.71,343.40 296.27,343.40 296.83,343.40 297.39,343.40 297.95,343.40 298.51,343.40 299.06,343.40 299.62,343.40 300.18,343.40 300.74,343.40 301.30,343.40 301.86,343.40 302.42,343.40 302.97,343.40 303.53,343.40 304.09,343.40 304.65,343.40 305.21,343.40 305.77,343.40 306.32,343.40 306.88,343.40 308.00,343.35 309.12,343.21 310.23,342.96 311.35,342.60 312.47,342.11 313.58,341.48 314.70,340.72 315.82,339.80 316.38,333.48 316.93,317.66 317.49,295.52 318.05,270.25 318.61,245.05 319.17,223.09 319.73,207.58 320.29,201.70 320.84,202.18 321.40,203.53 321.96,205.59 322.52,208.19 323.08,211.18 323.64,214.40 324.19,217.69 324.75,220.90 325.31,224.47 325.87,228.79 326.43,233.61 326.99,238.67 327.54,243.73 328.10,248.52 328.66,252.79 329.22,256.30 329.78,259.26 330.34,262.05 330.90,264.66 331.45,267.10 332.01,269.34 332.57,271.37 333.13,273.20 333.69,274.80 334.25,276.22 334.80,277.52 335.36,278.71 335.92,279.81 336.48,280.83 337.04,281.79 337.60,282.71 338.16,283.60 338.71,284.46 339.27,285.27 339.83,286.05 340.39,286.79 340.95,287.50 341.51,288.18 342.06,288.85 342.62,289.50 343.18,290.14 343.74,290.75 344.30,291.35 344.86,291.93 345.41,292.49 345.97,293.04 346.53,293.57 347.09,294.10 347.65,294.61 348.21,295.12 348.77,295.61 349.32,296.09 349.88,296.56 350.44,297.02 351.00,297.47 351.56,297.90 352.12,298.32 352.67,298.73 353.23,299.14 353.79,299.53 354.35,299.91 354.91,300.29 355.47,300.65 356.03,301.00 356.58,301.34 357.14,301.67 357.70,302.00 358.26,302.31 358.82,302.62 359.38,302.92 359.93,303.21 360.49,303.50 361.05,303.78 361.61,304.06 362.17,304.33 362.73,304.60 363.28,304.86 363.84,305.11 364.40,305.36 364.96,305.60 365.52,305.83 366.08,306.06 366.64,306.28 367.19,306.50 367.75,306.71 368.31,306.92 368.87,307.11 369.43,307.30 369.99,307.48 370.54,307.65 371.10,307.82 371.66,307.99 372.22,308.14 372.78,308.30 373.34,308.45 373.90,308.60 374.45,308.75 375.01,308.89 375.57,309.04 376.13,309.18 376.69,309.31 377.25,309.44 377.80,309.57 378.36,309.70 378.92,309.82 379.48,309.94 380.04,310.06 380.60,310.17 381.15,310.28 381.71,310.39 382.27,310.49 382.83,310.60 383.39,310.71 383.95,310.81 384.51,310.92 385.06,311.02 385.62,311.12 386.18,311.22 386.74,311.31 387.30,311.40 387.86,311.48 388.41,311.56 388.97,311.64 389.53,311.72 390.09,311.79 390.65,311.86 391.21,311.93 391.77,312.00 392.32,312.07 392.88,312.13 393.44,312.19 394.00,312.26 394.56,312.32 395.12,312.38 395.67,312.44 396.23,312.50 396.79,312.56 397.35,312.62 397.91,312.69 398.47,312.75 399.02,312.81 399.58,312.88 400.14,312.94 400.70,313.00" fill="none" stroke="#ff1a1a" stroke-width="0.8" stroke-linejoin="round"/>
<circle cx="222.00" cy="338.00" r="2.0" fill="#ff1010"/>
<circle cx="226.47" cy="338.20" r="2.0" fill="#ff1010"/>
<circle cx="230.94" cy="339.10" r="2.0" fill="#ff1010"/>
<circle cx="235.40" cy="340.20" r="2.0" fill="#ff1010"/>
<circle cx="239.87" cy="341.20" r="2.0" fill="#ff1010"/>
<circle cx="244.34" cy="341.90" r="2.0" fill="#ff1010"/>
<circle cx="248.81" cy="342.40" r="2.0" fill="#ff1010"/>
<circle cx="253.27" cy="342.70" r="2.0" fill="#ff1010"/>
<circle cx="257.74" cy="342.90" r="2.0" fill="#ff1010"/>
<circle cx="262.21" cy="343.00" r="2.0" fill="#ff1010"/>
<circle cx="266.68" cy="343.10" r="2.0" fill="#ff1010"/>
<circle cx="271.14" cy="343.20" r="2.0" fill="#ff1010"/>
<circle cx="275.61" cy="343.20" r="2.0" fill="#ff1010"/>
<circle cx="280.08" cy="343.30" r="2.0" fill="#ff1010"/>
<circle cx="284.55" cy="343.30" r="2.0" fill="#ff1010"/>
<circle cx="289.01" cy="343.40" r="2.0" fill="#ff1010"/>
<circle cx="293.48" cy="343.40" r="2.0" fill="#ff1010"/>
<circle cx="297.95" cy="343.40" r="2.0" fill="#ff1010"/>
<circle cx="302.42" cy="343.40" r="2.0" fill="#ff1010"/>
<circle cx="306.88" cy="343.40" r="2.0" fill="#ff1010"/>
<circle cx="315.82" cy="339.80" r="2.0" fill="#ff1010"/>
<circle cx="320.29" cy="201.70" r="2.0" fill="#ff1010"/>
<circle cx="324.75" cy="220.90" r="2.0" fill="#ff1010"/>
<circle cx="329.22" cy="256.30" r="2.0" fill="#ff1010"/>
<circle cx="333.69" cy="274.80" r="2.0" fill="#ff1010"/>
<circle cx="338.16" cy="283.60" r="2.0" fill="#ff1010"/>
<circle cx="342.62" cy="289.50" r="2.0" fill="#ff1010"/>
<circle cx="347.09" cy="294.10" r="2.0" fill="#ff1010"/>
<circle cx="351.56" cy="297.90" r="2.0" fill="#ff1010"/>
<circle cx="356.03" cy="301.00" r="2.0" fill="#ff1010"/>
<circle cx="360.49" cy="303.50" r="2.0" fill="#ff1010"/>
<circle cx="364.96" cy="305.60" r="2.0" fill="#ff1010"/>
<circle cx="369.43" cy="307.30" r="2.0" fill="#ff1010"/>
<circle cx="373.90" cy="308.60" r="2.0" fill="#ff1010"/>
<circle cx="378.36" cy="309.70" r="2.0" fill="#ff1010"/>
<circle cx="382.83" cy="310.60" r="2.0" fill="#ff1010"/>
<circle cx="387.30" cy="311.40" r="2.0" fill="#ff1010"/>
<circle cx="391.77" cy="312.00" r="2.0" fill="#ff1010"/>
<circle cx="396.23" cy="312.50" r="2.0" fill="#ff1010"/>
<circle cx="400.70" cy="313.00" r="2.0" fill="#ff1010"/>
<polyline points="222.00,340.90 222.56,340.96 223.12,341.02 223.68,341.08 224.23,341.14 224.79,341.20 225.35,341.26 225.91,341.33 226.47,341.40 227.03,341.48 227.58,341.56 228.14,341.65 228.70,341.74 229.26,341.84 229.82,341.93 230.38,342.02 230.94,342.10 231.49,342.18 232.05,342.26 232.61,342.34 233.17,342.41 233.73,342.49 234.29,342.56 234.84,342.63 235.40,342.70 235.96,342.77 236.52,342.84 237.08,342.91 237.64,342.97 238.19,343.03 238.75,343.09 239.31,343.15 239.87,343.20 240.43,343.25 240.99,343.29 241.55,343.33 242.10,343.37 242.66,343.40 243.22,343.44 243.78,343.47 244.34,343.50 244.90,343.53 245.45,343.56 246.01,343.59 246.57,343.61 247.13,343.64 247.69,343.66 248.25,343.68 248.81,343.70 249.36,343.72 249.92,343.73 250.48,343.75 251.04,343.77 251.60,343.78 252.16,343.79 252.71,343.80 253.27,343.80 253.83,343.80 254.39,343.80 254.95,343.80 255.51,343.80 256.06,343.80 256.62,343.80 257.18,343.80 257.74,343.80 258.30,343.80 258.86,343.80 259.42,343.80 259.97,343.80 260.53,343.80 261.09,343.80 261.65,343.80 262.21,343.80 262.77,343.80 263.32,343.80 263.88,343.80 264.44,343.80 265.00,343.80 265.56,343.80 266.12,343.80 266.68,343.80 267.23,343.80 267.79,343.79 268.35,343.78 268.91,343.76 269.47,343.75 270.03,343.73 270.58,343.71 271.14,343.70 271.70,343.69 272.26,343.67 272.82,343.66 273.38,343.65 273.93,343.64 274.49,343.63 275.05,343.61 275.61,343.60 276.17,343.59 276.73,343.57 277.29,343.56 277.84,343.55 278.40,343.54 278.96,343.53 279.52,343.51 280.08,343.50 280.64,343.49 281.19,343.48 281.75,343.47 282.31,343.45 282.87,343.44 283.43,343.43 283.99,343.42 284.55,343.40 285.10,343.38 285.66,343.36 286.22,343.34 286.78,343.32 287.34,343.29 287.90,343.26 288.45,343.23 289.01,343.20 289.57,343.16 290.13,343.12 290.69,343.07 291.25,343.02 291.80,342.97 292.36,342.91 292.92,342.86 293.48,342.80 294.04,342.74 294.60,342.68 295.16,342.62 295.71,342.56 296.27,342.49 296.83,342.43 297.39,342.36 297.95,342.30 298.51,342.24 299.06,342.18 299.62,342.12 300.18,342.06 300.74,341.99 301.30,341.93 301.86,341.87 302.42,341.80 302.97,341.73 303.53,341.67 304.09,341.61 304.65,341.55 305.21,341.48 305.77,341.40 306.32,341.31 306.88,341.20 308.00,340.96 309.12,340.66 310.23,340.29 311.35,339.79 312.47,339.15 313.58,338.33 314.70,337.29 315.82,336.00 316.38,331.06 316.93,319.14 317.49,302.40 318.05,283.04 318.61,263.23 319.17,245.17 319.73,231.03 320.29,223.00 320.84,218.89 321.40,215.10 321.96,211.69 322.52,208.75 323.08,206.34 323.64,204.53 324.19,203.39 324.75,203.00 325.31,204.86 325.87,209.85 326.43,217.12 326.99,225.79 327.54,235.00 328.10,243.88 328.66,251.57 329.22,257.20 329.78,261.39 330.34,265.32 330.90,268.98 331.45,272.34 332.01,275.40 332.57,278.12 333.13,280.49 333.69,282.50 334.25,284.23 334.80,285.79 335.36,287.21 335.92,288.49 336.48,289.67 337.04,290.75 337.60,291.75 338.16,292.70 338.71,293.59 339.27,294.42 339.83,295.19 340.39,295.92 340.95,296.60 341.51,297.26 342.06,297.89 342.62,298.50 343.18,299.10 343.74,299.69 344.30,300.27 344.86,300.82 345.41,301.34 345.97,301.83 346.53,302.29 347.09,302.70 347.65,303.08 348.21,303.42 348.77,303.75 349.32,304.06 349.88,304.35 350.44,304.64 351.00,304.92 351.56,305.20 352.12,305.48 352.67,305.76 353.23,306.03 353.79,306.30 354.35,306.56 354.91,306.81 355.47,307.06 356.03,307.30 356.58,307.53 357.14,307.76 357.70,307.98 358.26,308.19 358.82,308.40 359.38,308.61 359.93,308.81 360.49,309.00 361.05,309.19 361.61,309.38 362.17,309.56 362.73,309.74 363.28,309.91 363.84,310.08 364.40,310.24 364.96,310.40 365.52,310.55 366.08,310.70 366.64,310.84 367.19,310.97 367.75,311.11 368.31,311.24 368.87,311.37 369.43,311.50 369.99,311.63 370.54,311.76 371.10,311.89 371.66,312.02 372.22,312.15 372.78,312.27 373.34,312.39 373.90,312.50 374.45,312.61 375.01,312.71 375.57,312.81 376.13,312.91 376.69,313.01 377.25,313.10 377.80,313.20 378.36,313.30 378.92,313.40 379.48,313.50 380.04,313.60 380.60,313.71 381.15,313.81 381.71,313.91 382.27,314.01 382.83,314.10 383.39,314.19 383.95,314.28 384.51,314.37 385.06,314.46 385.62,314.55 386.18,314.63 386.74,314.72 387.30,314.80 387.86,314.88 388.41,314.96 388.97,315.04 389.53,315.11 390.09,315.19 390.65,315.26 391.21,315.33 391.77,315.40 392.32,315.47 392.88,315.53 393.44,315.59 394.00,315.65 394.56,315.71 395.12,315.77 395.67,315.83 396.23,315.90 396.79,315.97 397.35,316.04 397.91,316.12 398.47,316.19 399.02,316.27 399.58,316.35 400.14,316.42 400.70,316.50" fill="none" stroke="#00e000" stroke-width="0.8" stroke-linejoin="round"/>
<polygon points="222.00,338.63 219.90,342.41 224.10,342.41" fill="#00ee00"/>
<polygon points="226.47,339.13 224.37,342.91 228.57,342.91" fill="#00ee00"/>
<polygon points="230.94,339.83 228.84,343.61 233.03,343.61" fill="#00ee00"/>
<polygon points="235.40,340.43 233.30,344.21 237.50,344.21" fill="#00ee00"/>
<polygon points="239.87,340.93 237.77,344.71 241.97,344.71" fill="#00ee00"/>
<polygon points="244.34,341.23 242.24,345.01 246.44,345.01" fill="#00ee00"/>
<polygon points="248.81,341.43 246.71,345.21 250.91,345.21" fill="#00ee00"/>
<polygon points="253.27,341.53 251.17,345.31 255.37,345.31" fill="#00ee00"/>
<polygon points="257.74,341.53 255.64,345.31 259.84,345.31" fill="#00ee00"/>
<polygon points="262.21,341.53 260.11,345.31 264.31,345.31" fill="#00ee00"/>
<polygon points="266.68,341.53 264.57,345.31 268.78,345.31" fill="#00ee00"/>
<polygon points="271.14,341.43 269.04,345.21 273.24,345.21" fill="#00ee00"/>
<polygon points="275.61,341.33 273.51,345.11 277.71,345.11" fill="#00ee00"/>
<polygon points="280.08,341.23 277.98,345.01 282.18,345.01" fill="#00ee00"/>
<polygon points="284.55,341.13 282.44,344.91 286.65,344.91" fill="#00ee00"/>
<polygon points="289.01,340.93 286.91,344.71 291.11,344.71" fill="#00ee00"/>
<polygon points="293.48,340.53 291.38,344.31 295.58,344.31" fill="#00ee00"/>
<polygon points="297.95,340.03 295.85,343.81 300.05,343.81" fill="#00ee00"/>
<polygon points="302.42,339.53 300.31,343.31 304.52,343.31" fill="#00ee00"/>
<polygon points="306.88,338.93 304.78,342.71 308.98,342.71" fill="#00ee00"/>
<polygon points="315.82,333.73 313.72,337.51 317.92,337.51" fill="#00ee00"/>
<polygon points="320.29,220.73 318.19,224.51 322.39,224.51" fill="#00ee00"/>
<polygon points="324.75,200.73 322.65,204.51 326.85,204.51" fill="#00ee00"/>
<polygon points="329.22,254.93 327.12,258.71 331.32,258.71" fill="#00ee00"/>
<polygon points="333.69,280.23 331.59,284.01 335.79,284.01" fill="#00ee00"/>
<polygon points="338.16,290.43 336.06,294.21 340.26,294.21" fill="#00ee00"/>
<polygon points="342.62,296.23 340.52,300.01 344.72,300.01" fill="#00ee00"/>
<polygon points="347.09,300.43 344.99,304.21 349.19,304.21" fill="#00ee00"/>
<polygon points="351.56,302.93 349.46,306.71 353.66,306.71" fill="#00ee00"/>
<polygon points="356.03,305.03 353.93,308.81 358.13,308.81" fill="#00ee00"/>
<polygon points="360.49,306.73 358.39,310.51 362.59,310.51" fill="#00ee00"/>
<polygon points="364.96,308.13 362.86,311.91 367.06,311.91" fill="#00ee00"/>
<polygon points="369.43,309.23 367.33,313.01 371.53,313.01" fill="#00ee00"/>
<polygon points="373.90,310.23 371.80,314.01 376.00,314.01" fill="#00ee00"/>
<polygon points="378.36,311.03 376.26,314.81 380.46,314.81" fill="#00ee00"/>
<polygon points="382.83,311.83 380.73,315.61 384.93,315.61" fill="#00ee00"/>
<polygon points="387.30,312.53 385.20,316.31 389.40,316.31" fill="#00ee00"/>
<polygon points="391.77,313.13 389.67,316.91 393.87,316.91" fill="#00ee00"/>
<polygon points="396.23,313.63 394.13,317.41 398.33,317.41" fill="#00ee00"/>
<polygon points="400.70,314.23 398.60,318.01 402.80,318.01" fill="#00ee00"/>
</g>
<rect x="346.10" y="211.50" width="3.2" height="3.2" fill="#000"/>
<circle cx="347.70" cy="225.90" r="1.95" fill="#ff1010"/>
<polygon points="347.70,236.31 345.30,240.63 350.10,240.63" fill="#00ee00"/>
<text x="360.3" y="217.2" font-size="10.6" fill="#1a1a1a" textLength="44.2" lengthAdjust="spacingAndGlyphs"><tspan font-style="italic">T</tspan> = 100 °C</text>
<text x="360.3" y="230.1" font-size="10.6" fill="#1a1a1a" textLength="44.2" lengthAdjust="spacingAndGlyphs"><tspan font-style="italic">T</tspan> = 125 °C</text>
<text x="360.3" y="243.0" font-size="10.6" fill="#1a1a1a" textLength="44.2" lengthAdjust="spacingAndGlyphs"><tspan font-style="italic">T</tspan> = 150 °C</text>
<path d="M239.80,217.20H297.50V264.40" fill="none" stroke="#b4b4b4" stroke-width="0.9"/>
<path d="M239.80,217.20V264.40H297.50" fill="none" stroke="#9a9a9a" stroke-width="0.8" stroke-linecap="square"/>
<polyline points="245.33,261.10 268.98,244.18 292.63,220.72" fill="none" stroke="#3ae6e6" stroke-width="0.75" stroke-linejoin="round"/>
<polyline points="245.33,263.73 247.15,263.63 249.58,263.49 252.47,263.33 255.68,263.15 259.07,262.98 262.51,262.84 265.86,262.75 268.98,262.71 272.10,262.76 275.45,262.88 278.89,263.04 282.28,263.22 285.49,263.42 288.38,263.60 290.81,263.76 292.63,263.86" fill="none" stroke="#4444ff" stroke-width="0.7" stroke-linejoin="round"/>
<circle cx="245.33" cy="261.10" r="0.85" fill="#22dddd"/>
<circle cx="268.98" cy="244.18" r="0.85" fill="#22dddd"/>
<circle cx="292.63" cy="220.72" r="0.85" fill="#22dddd"/>
<circle cx="245.33" cy="263.73" r="0.85" fill="#3333ff"/>
<circle cx="268.98" cy="262.71" r="0.85" fill="#3333ff"/>
<circle cx="292.63" cy="263.86" r="0.85" fill="#3333ff"/>
<text x="239.00" y="265.90" font-size="4.6" text-anchor="end" fill="#1a1a1a" class="sm" >1</text>
<line x1="239.80" y1="264.40" x2="241.00" y2="264.40" stroke="#888" stroke-width="0.5" />
<text x="239.00" y="259.16" font-size="4.6" text-anchor="end" fill="#1a1a1a" class="sm" >2</text>
<line x1="239.80" y1="257.66" x2="241.00" y2="257.66" stroke="#888" stroke-width="0.5" />
<text x="239.00" y="252.42" font-size="4.6" text-anchor="end" fill="#1a1a1a" class="sm" >3</text>
<line x1="239.80" y1="250.92" x2="241.00" y2="250.92" stroke="#888" stroke-width="0.5" />
<text x="239.00" y="245.68" font-size="4.6" text-anchor="end" fill="#1a1a1a" class="sm" >4</text>
<line x1="239.80" y1="244.18" x2="241.00" y2="244.18" stroke="#888" stroke-width="0.5" />
<text x="239.00" y="238.94" font-size="4.6" text-anchor="end" fill="#1a1a1a" class="sm" >5</text>
<line x1="239.80" y1="237.44" x2="241.00" y2="237.44" stroke="#888" stroke-width="0.5" />
<text x="239.00" y="232.20" font-size="4.6" text-anchor="end" fill="#1a1a1a" class="sm" >6</text>
<line x1="239.80" y1="230.70" x2="241.00" y2="230.70" stroke="#888" stroke-width="0.5" />
<text x="239.00" y="225.46" font-size="4.6" text-anchor="end" fill="#1a1a1a" class="sm" >7</text>
<line x1="239.80" y1="223.96" x2="241.00" y2="223.96" stroke="#888" stroke-width="0.5" />
<text x="239.00" y="218.72" font-size="4.6" text-anchor="end" fill="#1a1a1a" class="sm" >8</text>
<line x1="239.80" y1="217.22" x2="241.00" y2="217.22" stroke="#888" stroke-width="0.5" />
<text x="240.60" y="268.60" font-size="5.2" text-anchor="middle" fill="#1a1a1a" class="sm" >0.2</text>
<line x1="240.60" y1="264.40" x2="240.60" y2="263.20" stroke="#888" stroke-width="0.5" />
<text x="250.06" y="268.60" font-size="5.2" text-anchor="middle" fill="#1a1a1a" class="sm" >0.3</text>
<line x1="250.06" y1="264.40" x2="250.06" y2="263.20" stroke="#888" stroke-width="0.5" />
<text x="259.52" y="268.60" font-size="5.2" text-anchor="middle" fill="#1a1a1a" class="sm" >0.4</text>
<line x1="259.52" y1="264.40" x2="259.52" y2="263.20" stroke="#888" stroke-width="0.5" />
<text x="268.98" y="268.60" font-size="5.2" text-anchor="middle" fill="#1a1a1a" class="sm" >0.5</text>
<line x1="268.98" y1="264.40" x2="268.98" y2="263.20" stroke="#888" stroke-width="0.5" />
<text x="278.44" y="268.60" font-size="5.2" text-anchor="middle" fill="#1a1a1a" class="sm" >0.6</text>
<line x1="278.44" y1="264.40" x2="278.44" y2="263.20" stroke="#888" stroke-width="0.5" />
<text x="287.90" y="268.60" font-size="5.2" text-anchor="middle" fill="#1a1a1a" class="sm" >0.7</text>
<line x1="287.90" y1="264.40" x2="287.90" y2="263.20" stroke="#888" stroke-width="0.5" />
<text x="297.36" y="268.60" font-size="5.2" text-anchor="middle" fill="#1a1a1a" class="sm" >0.8</text>
<line x1="297.36" y1="264.40" x2="297.36" y2="263.20" stroke="#888" stroke-width="0.5" />
<text x="268.90" y="276.50" font-size="7.75" text-anchor="middle" fill="#1a1a1a" class="md" >Applied voltage (V)</text>
<text transform="translate(234.0,244.2) rotate(-90)" font-size="8.2" text-anchor="middle" fill="#1a1a1a">Current response (arb. un.)</text>
<circle cx="248.60" cy="222.60" r="0.8" fill="#3333ff"/>
<circle cx="248.60" cy="229.00" r="0.8" fill="#22dddd"/>
<text x="256.2" y="225.0" font-size="5.8" fill="#1a1a1a" class="sm" textLength="19.8" lengthAdjust="spacingAndGlyphs"><tspan font-style="italic">T</tspan> = 25 °C</text>
<text x="256.2" y="231.3" font-size="5.8" fill="#1a1a1a" class="sm" textLength="22.3" lengthAdjust="spacingAndGlyphs"><tspan font-style="italic">T</tspan> = 200 °C</text>
</svg></body></html>
